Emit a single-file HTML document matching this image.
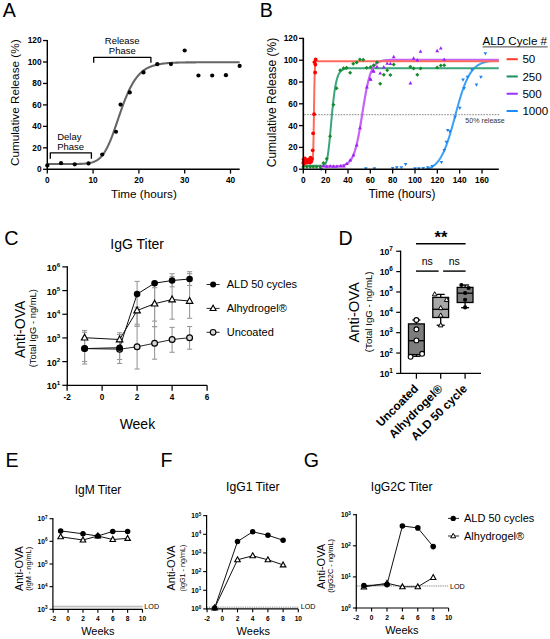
<!DOCTYPE html>
<html><head><meta charset="utf-8"><title>Figure</title>
<style>
html,body{margin:0;padding:0;background:#fff;}
body{width:550px;height:639px;overflow:hidden;}
svg{display:block;font-family:"Liberation Sans", sans-serif;}
</style></head><body>
<svg width="550" height="639" viewBox="0 0 550 639">
<rect width="550" height="639" fill="#fff"/>
<text x="2.8" y="16.8" font-size="19.6" text-anchor="start" fill="#000">A</text>
<line x1="47.3" y1="39.94" x2="47.3" y2="169.9" stroke="#000" stroke-width="1.4"/>
<line x1="46.7" y1="169.3" x2="239.66" y2="169.3" stroke="#000" stroke-width="1.4"/>
<line x1="43" y1="169.3" x2="47.3" y2="169.3" stroke="#000" stroke-width="1.3"/>
<text x="41.6" y="172.25" font-size="8.3" text-anchor="end" fill="#000" font-weight="bold">0</text>
<line x1="43" y1="147.84" x2="47.3" y2="147.84" stroke="#000" stroke-width="1.3"/>
<text x="41.6" y="150.79" font-size="8.3" text-anchor="end" fill="#000" font-weight="bold">20</text>
<line x1="43" y1="126.38" x2="47.3" y2="126.38" stroke="#000" stroke-width="1.3"/>
<text x="41.6" y="129.33" font-size="8.3" text-anchor="end" fill="#000" font-weight="bold">40</text>
<line x1="43" y1="104.92" x2="47.3" y2="104.92" stroke="#000" stroke-width="1.3"/>
<text x="41.6" y="107.87" font-size="8.3" text-anchor="end" fill="#000" font-weight="bold">60</text>
<line x1="43" y1="83.46" x2="47.3" y2="83.46" stroke="#000" stroke-width="1.3"/>
<text x="41.6" y="86.41" font-size="8.3" text-anchor="end" fill="#000" font-weight="bold">80</text>
<line x1="43" y1="62" x2="47.3" y2="62" stroke="#000" stroke-width="1.3"/>
<text x="41.6" y="64.95" font-size="8.3" text-anchor="end" fill="#000" font-weight="bold">100</text>
<line x1="43" y1="40.54" x2="47.3" y2="40.54" stroke="#000" stroke-width="1.3"/>
<text x="41.6" y="43.49" font-size="8.3" text-anchor="end" fill="#000" font-weight="bold">120</text>
<line x1="47.3" y1="169.3" x2="47.3" y2="173.6" stroke="#000" stroke-width="1.3"/>
<text x="47.3" y="182.5" font-size="8.3" text-anchor="middle" fill="#000" font-weight="bold">0</text>
<line x1="93.1" y1="169.3" x2="93.1" y2="173.6" stroke="#000" stroke-width="1.3"/>
<text x="93.1" y="182.5" font-size="8.3" text-anchor="middle" fill="#000" font-weight="bold">10</text>
<line x1="138.9" y1="169.3" x2="138.9" y2="173.6" stroke="#000" stroke-width="1.3"/>
<text x="138.9" y="182.5" font-size="8.3" text-anchor="middle" fill="#000" font-weight="bold">20</text>
<line x1="184.7" y1="169.3" x2="184.7" y2="173.6" stroke="#000" stroke-width="1.3"/>
<text x="184.7" y="182.5" font-size="8.3" text-anchor="middle" fill="#000" font-weight="bold">30</text>
<line x1="230.5" y1="169.3" x2="230.5" y2="173.6" stroke="#000" stroke-width="1.3"/>
<text x="230.5" y="182.5" font-size="8.3" text-anchor="middle" fill="#000" font-weight="bold">40</text>
<text x="143.9" y="198.2" font-size="11.7" text-anchor="middle" fill="#000">Time (hours)</text>
<text x="19" y="102.75" font-size="11.75" text-anchor="middle" fill="#000" transform="rotate(-90 19 102.75)">Cumulative Release (%)</text>
<polyline points="47.3,164.06 48.26,164.06 49.22,164.06 50.19,164.06 51.15,164.06 52.11,164.06 53.07,164.06 54.03,164.06 54.99,164.06 55.96,164.06 56.92,164.06 57.88,164.06 58.84,164.06 59.8,164.06 60.77,164.06 61.73,164.06 62.69,164.06 63.65,164.06 64.61,164.06 65.57,164.06 66.54,164.06 67.5,164.05 68.46,164.05 69.42,164.05 70.38,164.04 71.34,164.04 72.31,164.03 73.27,164.03 74.23,164.02 75.19,164.01 76.15,163.99 77.12,163.98 78.08,163.96 79.04,163.94 80,163.91 80.96,163.88 81.92,163.84 82.89,163.79 83.85,163.73 84.81,163.66 85.77,163.57 86.73,163.47 87.7,163.35 88.66,163.21 89.62,163.03 90.58,162.83 91.54,162.59 92.5,162.31 93.47,161.98 94.43,161.6 95.39,161.15 96.35,160.64 97.31,160.04 98.28,159.36 99.24,158.59 100.2,157.71 101.16,156.72 102.12,155.61 103.08,154.37 104.05,153 105.01,151.49 105.97,149.84 106.93,148.05 107.89,146.12 108.86,144.06 109.82,141.86 110.78,139.53 111.74,137.1 112.7,134.56 113.66,131.93 114.63,129.23 115.59,126.46 116.55,123.66 117.51,120.83 118.47,118 119.44,115.18 120.4,112.37 121.36,109.61 122.32,106.91 123.28,104.26 124.24,101.7 125.21,99.22 126.17,96.83 127.13,94.53 128.09,92.34 129.05,90.26 130.01,88.28 130.98,86.4 131.94,84.63 132.9,82.97 133.86,81.41 134.82,79.95 135.79,78.58 136.75,77.3 137.71,76.12 138.67,75.01 139.63,73.99 140.59,73.04 141.56,72.16 142.52,71.35 143.48,70.6 144.44,69.91 145.4,69.27 146.37,68.68 147.33,68.14 148.29,67.65 149.25,67.19 150.21,66.77 151.17,66.39 152.14,66.04 153.1,65.71 154.06,65.42 155.02,65.15 155.98,64.9 156.95,64.67 157.91,64.46 158.87,64.27 159.83,64.1 160.79,63.94 161.75,63.8 162.72,63.66 163.68,63.54 164.64,63.43 165.6,63.33 166.56,63.24 167.53,63.15 168.49,63.07 169.45,63 170.41,62.94 171.37,62.88 172.33,62.83 173.3,62.78 174.26,62.73 175.22,62.69 176.18,62.66 177.14,62.62 178.1,62.59 179.07,62.56 180.03,62.54 180.99,62.51 181.95,62.49 182.91,62.47 183.88,62.45 184.84,62.44 185.8,62.42 186.76,62.41 187.72,62.4 188.68,62.38 189.65,62.37 190.61,62.37 191.57,62.36 192.53,62.35 193.49,62.34 194.46,62.33 195.42,62.33 196.38,62.32 197.34,62.32 198.3,62.31 199.26,62.31 200.23,62.31 201.19,62.3 202.15,62.3 203.11,62.3 204.07,62.29 205.04,62.29 206,62.29 206.96,62.29 207.92,62.29 208.88,62.28 209.84,62.28 210.81,62.28 211.77,62.28 212.73,62.28 213.69,62.28 214.65,62.28 215.62,62.28 216.58,62.28 217.54,62.27 218.5,62.27 219.46,62.27 220.42,62.27 221.39,62.27 222.35,62.27 223.31,62.27 224.27,62.27 225.23,62.27 226.19,62.27 227.16,62.27 228.12,62.27 229.08,62.27 230.04,62.27 231,62.27 231.97,62.27 232.93,62.27 233.89,62.27 234.85,62.27 235.81,62.27 236.77,62.27 237.74,62.27 238.7,62.27 239.66,62.27" stroke="#666" stroke-width="2.1" fill="none" stroke-linejoin="round" stroke-linecap="butt"/>
<circle cx="47.3" cy="165.44" r="2.1" fill="#000"/>
<circle cx="61.04" cy="163.18" r="2.1" fill="#000"/>
<circle cx="74.78" cy="164.36" r="2.1" fill="#000"/>
<circle cx="88.52" cy="163.4" r="2.1" fill="#000"/>
<circle cx="102.26" cy="154.49" r="2.1" fill="#000"/>
<circle cx="116" cy="131.75" r="2.1" fill="#000"/>
<circle cx="120.58" cy="104.6" r="2.1" fill="#000"/>
<circle cx="129.74" cy="92.47" r="2.1" fill="#000"/>
<circle cx="143.48" cy="72.41" r="2.1" fill="#000"/>
<circle cx="157.22" cy="64.15" r="2.1" fill="#000"/>
<circle cx="170.96" cy="64.04" r="2.1" fill="#000"/>
<circle cx="184.7" cy="50.52" r="2.1" fill="#000"/>
<circle cx="198.44" cy="75.52" r="2.1" fill="#000"/>
<circle cx="212.18" cy="75.52" r="2.1" fill="#000"/>
<circle cx="225.92" cy="75.2" r="2.1" fill="#000"/>
<circle cx="239.66" cy="65.97" r="2.1" fill="#000"/>
<polyline points="50.3,158.8 50.3,152.8 91.4,152.8 91.4,158.8" stroke="#000" stroke-width="1.3" fill="none" stroke-linejoin="round"/>
<text x="69.3" y="139.7" font-size="9.5" text-anchor="middle" fill="#000">Delay</text>
<text x="70.7" y="149.7" font-size="9.5" text-anchor="middle" fill="#000">Phase</text>
<polyline points="93.7,62.8 93.7,57.3 150.9,57.3 150.9,62.8" stroke="#000" stroke-width="1.3" fill="none" stroke-linejoin="round"/>
<text x="122.2" y="44" font-size="9.5" text-anchor="middle" fill="#000">Release</text>
<text x="122.3" y="54.3" font-size="9.5" text-anchor="middle" fill="#000">Phase</text>
<text x="259.8" y="16.6" font-size="19.6" text-anchor="start" fill="#000">B</text>
<line x1="299" y1="169.2" x2="303.3" y2="169.2" stroke="#000" stroke-width="1.3"/>
<text x="297.6" y="172.15" font-size="8.3" text-anchor="end" fill="#000" font-weight="bold">0</text>
<line x1="299" y1="147.4" x2="303.3" y2="147.4" stroke="#000" stroke-width="1.3"/>
<text x="297.6" y="150.35" font-size="8.3" text-anchor="end" fill="#000" font-weight="bold">20</text>
<line x1="299" y1="125.6" x2="303.3" y2="125.6" stroke="#000" stroke-width="1.3"/>
<text x="297.6" y="128.55" font-size="8.3" text-anchor="end" fill="#000" font-weight="bold">40</text>
<line x1="299" y1="103.8" x2="303.3" y2="103.8" stroke="#000" stroke-width="1.3"/>
<text x="297.6" y="106.75" font-size="8.3" text-anchor="end" fill="#000" font-weight="bold">60</text>
<line x1="299" y1="82" x2="303.3" y2="82" stroke="#000" stroke-width="1.3"/>
<text x="297.6" y="84.95" font-size="8.3" text-anchor="end" fill="#000" font-weight="bold">80</text>
<line x1="299" y1="60.2" x2="303.3" y2="60.2" stroke="#000" stroke-width="1.3"/>
<text x="297.6" y="63.15" font-size="8.3" text-anchor="end" fill="#000" font-weight="bold">100</text>
<line x1="299" y1="38.4" x2="303.3" y2="38.4" stroke="#000" stroke-width="1.3"/>
<text x="297.6" y="41.35" font-size="8.3" text-anchor="end" fill="#000" font-weight="bold">120</text>
<line x1="303.3" y1="169.2" x2="303.3" y2="173.5" stroke="#000" stroke-width="1.3"/>
<text x="303.3" y="183.4" font-size="8.3" text-anchor="middle" fill="#000" font-weight="bold">0</text>
<line x1="325.64" y1="169.2" x2="325.64" y2="173.5" stroke="#000" stroke-width="1.3"/>
<text x="325.64" y="183.4" font-size="8.3" text-anchor="middle" fill="#000" font-weight="bold">20</text>
<line x1="347.98" y1="169.2" x2="347.98" y2="173.5" stroke="#000" stroke-width="1.3"/>
<text x="347.98" y="183.4" font-size="8.3" text-anchor="middle" fill="#000" font-weight="bold">40</text>
<line x1="370.32" y1="169.2" x2="370.32" y2="173.5" stroke="#000" stroke-width="1.3"/>
<text x="370.32" y="183.4" font-size="8.3" text-anchor="middle" fill="#000" font-weight="bold">60</text>
<line x1="392.66" y1="169.2" x2="392.66" y2="173.5" stroke="#000" stroke-width="1.3"/>
<text x="392.66" y="183.4" font-size="8.3" text-anchor="middle" fill="#000" font-weight="bold">80</text>
<line x1="415" y1="169.2" x2="415" y2="173.5" stroke="#000" stroke-width="1.3"/>
<text x="415" y="183.4" font-size="8.3" text-anchor="middle" fill="#000" font-weight="bold">100</text>
<line x1="437.34" y1="169.2" x2="437.34" y2="173.5" stroke="#000" stroke-width="1.3"/>
<text x="437.34" y="183.4" font-size="8.3" text-anchor="middle" fill="#000" font-weight="bold">120</text>
<line x1="459.68" y1="169.2" x2="459.68" y2="173.5" stroke="#000" stroke-width="1.3"/>
<text x="459.68" y="183.4" font-size="8.3" text-anchor="middle" fill="#000" font-weight="bold">140</text>
<line x1="482.02" y1="169.2" x2="482.02" y2="173.5" stroke="#000" stroke-width="1.3"/>
<text x="482.02" y="183.4" font-size="8.3" text-anchor="middle" fill="#000" font-weight="bold">160</text>
<text x="401.9" y="198.3" font-size="11.9" text-anchor="middle" fill="#000">Time (hours)</text>
<text x="276.1" y="102.55" font-size="12" text-anchor="middle" fill="#000" transform="rotate(-90 276.1 102.55)">Cumulative Release (%)</text>
<line x1="304.3" y1="114.7" x2="499.4" y2="114.7" stroke="#777" stroke-width="0.9" stroke-dasharray="1.6,1.2"/>
<text x="504.8" y="123.4" font-size="7.1" text-anchor="end" fill="#333">50% release</text>
<defs><clipPath id="cpB"><rect x="303.3" y="30" width="197.47" height="139.2"/></clipPath></defs>
<g clip-path="url(#cpB)">
<polyline points="403.83,171.69 404.07,171.69 404.3,171.68 404.54,171.68 404.78,171.68 405.02,171.67 405.25,171.67 405.49,171.66 405.73,171.66 405.97,171.65 406.2,171.65 406.44,171.64 406.68,171.64 406.92,171.63 407.15,171.62 407.39,171.62 407.63,171.61 407.87,171.61 408.1,171.6 408.34,171.59 408.58,171.58 408.81,171.58 409.05,171.57 409.29,171.56 409.53,171.55 409.76,171.54 410,171.54 410.24,171.53 410.48,171.52 410.71,171.51 410.95,171.5 411.19,171.49 411.43,171.48 411.66,171.47 411.9,171.46 412.14,171.44 412.38,171.43 412.61,171.42 412.85,171.41 413.09,171.4 413.32,171.38 413.56,171.37 413.8,171.35 414.04,171.34 414.27,171.32 414.51,171.31 414.75,171.29 414.99,171.28 415.22,171.26 415.46,171.24 415.7,171.22 415.94,171.2 416.17,171.18 416.41,171.16 416.65,171.14 416.88,171.12 417.12,171.1 417.36,171.08 417.6,171.05 417.83,171.03 418.07,171 418.31,170.98 418.55,170.95 418.78,170.92 419.02,170.9 419.26,170.87 419.5,170.84 419.73,170.81 419.97,170.77 420.21,170.74 420.45,170.71 420.68,170.67 420.92,170.63 421.16,170.6 421.39,170.56 421.63,170.52 421.87,170.48 422.11,170.44 422.34,170.39 422.58,170.35 422.82,170.3 423.06,170.25 423.29,170.2 423.53,170.15 423.77,170.1 424.01,170.05 424.24,169.99 424.48,169.93 424.72,169.87 424.96,169.81 425.19,169.75 425.43,169.69 425.67,169.62 425.9,169.55 426.14,169.48 426.38,169.41 426.62,169.33 426.85,169.25 427.09,169.17 427.33,169.09 427.57,169.01 427.8,168.92 428.04,168.83 428.28,168.74 428.52,168.64 428.75,168.54 428.99,168.44 429.23,168.34 429.47,168.23 429.7,168.12 429.94,168 430.18,167.88 430.41,167.76 430.65,167.64 430.89,167.51 431.13,167.38 431.36,167.24 431.6,167.1 431.84,166.96 432.08,166.81 432.31,166.66 432.55,166.5 432.79,166.34 433.03,166.17 433.26,166 433.5,165.82 433.74,165.64 433.98,165.46 434.21,165.26 434.45,165.07 434.69,164.87 434.92,164.66 435.16,164.44 435.4,164.22 435.64,164 435.87,163.77 436.11,163.53 436.35,163.28 436.59,163.03 436.82,162.77 437.06,162.51 437.3,162.24 437.54,161.96 437.77,161.67 438.01,161.38 438.25,161.07 438.48,160.76 438.72,160.45 438.96,160.12 439.2,159.79 439.43,159.45 439.67,159.09 439.91,158.74 440.15,158.37 440.38,157.99 440.62,157.6 440.86,157.21 441.1,156.81 441.33,156.39 441.57,155.97 441.81,155.54 442.05,155.09 442.28,154.64 442.52,154.18 442.76,153.7 442.99,153.22 443.23,152.73 443.47,152.22 443.71,151.71 443.94,151.19 444.18,150.65 444.42,150.11 444.66,149.55 444.89,148.98 445.13,148.41 445.37,147.82 445.61,147.22 445.84,146.61 446.08,145.99 446.32,145.36 446.56,144.72 446.79,144.07 447.03,143.41 447.27,142.73 447.5,142.05 447.74,141.36 447.98,140.66 448.22,139.94 448.45,139.22 448.69,138.49 448.93,137.75 449.17,137 449.4,136.24 449.64,135.47 449.88,134.7 450.12,133.91 450.35,133.12 450.59,132.32 450.83,131.51 451.07,130.7 451.3,129.88 451.54,129.05 451.78,128.21 452.01,127.37 452.25,126.53 452.49,125.68 452.73,124.82 452.96,123.96 453.2,123.1 453.44,122.23 453.68,121.36 453.91,120.49 454.15,119.62 454.39,118.74 454.63,117.86 454.86,116.98 455.1,116.1 455.34,115.22 455.58,114.34 455.81,113.47 456.05,112.59 456.29,111.71 456.52,110.84 456.76,109.97 457,109.1 457.24,108.24 457.47,107.37 457.71,106.52 457.95,105.67 458.19,104.82 458.42,103.98 458.66,103.14 458.9,102.31 459.14,101.49 459.37,100.67 459.61,99.86 459.85,99.05 460.08,98.26 460.32,97.47 460.56,96.69 460.8,95.92 461.03,95.16 461.27,94.41 461.51,93.66 461.75,92.93 461.98,92.2 462.22,91.48 462.46,90.78 462.7,90.08 462.93,89.4 463.17,88.72 463.41,88.05 463.65,87.4 463.88,86.75 464.12,86.12 464.36,85.5 464.59,84.88 464.83,84.28 465.07,83.69 465.31,83.11 465.54,82.54 465.78,81.98 466.02,81.43 466.26,80.89 466.49,80.36 466.73,79.84 466.97,79.33 467.21,78.84 467.44,78.35 467.68,77.87 467.92,77.41 468.16,76.95 468.39,76.5 468.63,76.07 468.87,75.64 469.1,75.22 469.34,74.82 469.58,74.42 469.82,74.03 470.05,73.65 470.29,73.28 470.53,72.91 470.77,72.56 471,72.21 471.24,71.88 471.48,71.55 471.72,71.23 471.95,70.92 472.19,70.61 472.43,70.31 472.67,70.02 472.9,69.74 473.14,69.47 473.38,69.2 473.61,68.94 473.85,68.69 474.09,68.44 474.33,68.2 474.56,67.96 474.8,67.73 475.04,67.51 475.28,67.3 475.51,67.09 475.75,66.88 475.99,66.68 476.23,66.49 476.46,66.3 476.7,66.12 476.94,65.94 477.18,65.77 477.41,65.6 477.65,65.44 477.89,65.28 478.12,65.12 478.36,64.97 478.6,64.83 478.84,64.68 479.07,64.55 479.31,64.41 479.55,64.28 479.79,64.16 480.02,64.04 480.26,63.92 480.5,63.8 480.74,63.69 480.97,63.58 481.21,63.47 481.45,63.37 481.68,63.27 481.92,63.17 482.16,63.08 482.4,62.99 482.63,62.9 482.87,62.81 483.11,62.73 483.35,62.65 483.58,62.57 483.82,62.5 484.06,62.42 484.3,62.35 484.53,62.28 484.77,62.21 485.01,62.15 485.25,62.08 485.48,62.02 485.72,61.96 485.96,61.9 486.19,61.85 486.43,61.79 486.67,61.74 486.91,61.69 487.14,61.64 487.38,61.59 487.62,61.54 487.86,61.5 488.09,61.45 488.33,61.41 488.57,61.37 488.81,61.33 489.04,61.29 489.28,61.25 489.52,61.22 489.76,61.18 489.99,61.15 490.23,61.11 490.47,61.08 490.7,61.05 490.94,61.02 491.18,60.99 491.42,60.96 491.65,60.93 491.89,60.91 492.13,60.88 492.37,60.85 492.6,60.83 492.84,60.81 493.08,60.78 493.32,60.76 493.55,60.74 493.79,60.72 494.03,60.7 494.27,60.68 494.5,60.66 494.74,60.64 494.98,60.62 495.21,60.61 495.45,60.59 495.69,60.57 495.93,60.56 496.16,60.54 496.4,60.53 496.64,60.51 496.88,60.5 497.11,60.48 497.35,60.47 497.59,60.46 497.83,60.45 498.06,60.43 498.3,60.42 498.54,60.41 498.77,60.4" stroke="#3aa0f5" stroke-width="2" fill="none" stroke-linejoin="round" stroke-linecap="butt"/>
<polyline points="303.3,165.71 303.69,165.71 304.08,165.71 304.47,165.71 304.86,165.71 305.25,165.71 305.65,165.71 306.04,165.71 306.43,165.71 306.82,165.71 307.21,165.71 307.6,165.71 307.99,165.71 308.38,165.71 308.77,165.71 309.16,165.71 309.56,165.71 309.95,165.71 310.34,165.71 310.73,165.71 311.12,165.71 311.51,165.71 311.9,165.71 312.29,165.71 312.68,165.71 313.07,165.71 313.46,165.71 313.86,165.71 314.25,165.71 314.64,165.71 315.03,165.71 315.42,165.71 315.81,165.71 316.2,165.71 316.59,165.71 316.98,165.71 317.37,165.71 317.77,165.71 318.16,165.71 318.55,165.71 318.94,165.71 319.33,165.71 319.72,165.71 320.11,165.71 320.5,165.7 320.89,165.69 321.28,165.68 321.67,165.67 322.07,165.65 322.46,165.61 322.85,165.56 323.24,165.48 323.63,165.36 324.02,165.19 324.41,164.95 324.8,164.62 325.19,164.16 325.58,163.54 325.98,162.73 326.37,161.68 326.76,160.35 327.15,158.7 327.54,156.7 327.93,154.34 328.32,151.6 328.71,148.49 329.1,145.04 329.49,141.28 329.88,137.27 330.28,133.07 330.67,128.76 331.06,124.39 331.45,120.03 331.84,115.75 332.23,111.6 332.62,107.62 333.01,103.84 333.4,100.3 333.79,97 334.19,93.95 334.58,91.15 334.97,88.6 335.36,86.29 335.75,84.2 336.14,82.33 336.53,80.65 336.92,79.16 337.31,77.83 337.7,76.65 338.09,75.61 338.49,74.69 338.88,73.88 339.27,73.16 339.66,72.53 340.05,71.98 340.44,71.5 340.83,71.08 341.22,70.7 341.61,70.38 342,70.1 342.39,69.85 342.79,69.63 343.18,69.44 343.57,69.28 343.96,69.13 344.35,69.01 344.74,68.9 345.13,68.8 345.52,68.72 345.91,68.65 346.3,68.58 346.7,68.53 347.09,68.48 347.48,68.44 347.87,68.4 348.26,68.37 348.65,68.34 349.04,68.32 349.43,68.3 349.82,68.28 350.21,68.26 350.6,68.25 351,68.24 351.39,68.23 351.78,68.22 352.17,68.21 352.56,68.2 352.95,68.2 353.34,68.19 353.73,68.19 354.12,68.18 354.51,68.18 354.91,68.18 355.3,68.17 355.69,68.17 356.08,68.17 356.47,68.17 356.86,68.17 357.25,68.17 357.64,68.16 358.03,68.16 358.42,68.16 358.81,68.16 359.21,68.16 359.6,68.16 359.99,68.16 360.38,68.16 360.77,68.16 361.16,68.16 361.55,68.16 361.94,68.16 362.33,68.16 362.72,68.16 363.12,68.16 363.51,68.16 363.9,68.16 364.29,68.16 364.68,68.16 365.07,68.16 365.46,68.16 365.85,68.16 366.24,68.16 366.63,68.16 367.02,68.16 367.42,68.16 367.81,68.16 368.2,68.16 368.59,68.16 368.98,68.16 369.37,68.16 369.76,68.16 370.15,68.16 370.54,68.16 370.93,68.16 371.33,68.16 371.72,68.16 372.11,68.16 372.5,68.16 372.89,68.16 373.28,68.16 373.67,68.16 374.06,68.16 374.45,68.16 374.84,68.16 375.23,68.16 375.63,68.16 376.02,68.16 376.41,68.16 376.8,68.16 377.19,68.16 377.58,68.16 377.97,68.16 378.36,68.16 378.75,68.16 379.14,68.16 379.54,68.16 379.93,68.16 380.32,68.16 380.71,68.16 381.1,68.16 381.49,68.16 381.88,68.16 382.27,68.16 382.66,68.16 383.05,68.16 383.44,68.16 383.84,68.16 384.23,68.16 384.62,68.16 385.01,68.16 385.4,68.16 385.79,68.16 386.18,68.16 386.57,68.16 386.96,68.16 387.35,68.16 387.75,68.16 388.14,68.16 388.53,68.16 388.92,68.16 389.31,68.16 389.7,68.16 390.09,68.16 390.48,68.16 390.87,68.16 391.26,68.16 391.65,68.16 392.05,68.16 392.44,68.16 392.83,68.16 393.22,68.16 393.61,68.16 394,68.16 394.39,68.16 394.78,68.16 395.17,68.16 395.56,68.16 395.96,68.16 396.35,68.16 396.74,68.16 397.13,68.16 397.52,68.16 397.91,68.16 398.3,68.16 398.69,68.16 399.08,68.16 399.47,68.16 399.86,68.16 400.26,68.16 400.65,68.16 401.04,68.16 401.43,68.16 401.82,68.16 402.21,68.16 402.6,68.16 402.99,68.16 403.38,68.16 403.77,68.16 404.17,68.16 404.56,68.16 404.95,68.16 405.34,68.16 405.73,68.16 406.12,68.16 406.51,68.16 406.9,68.16 407.29,68.16 407.68,68.16 408.07,68.16 408.47,68.16 408.86,68.16 409.25,68.16 409.64,68.16 410.03,68.16 410.42,68.16 410.81,68.16 411.2,68.16 411.59,68.16 411.98,68.16 412.38,68.16 412.77,68.16 413.16,68.16 413.55,68.16 413.94,68.16 414.33,68.16 414.72,68.16 415.11,68.16 415.5,68.16 415.89,68.16 416.28,68.16 416.68,68.16 417.07,68.16 417.46,68.16 417.85,68.16 418.24,68.16 418.63,68.16 419.02,68.16 419.41,68.16 419.8,68.16 420.19,68.16 420.59,68.16 420.98,68.16 421.37,68.16 421.76,68.16 422.15,68.16 422.54,68.16 422.93,68.16 423.32,68.16 423.71,68.16 424.1,68.16 424.49,68.16 424.89,68.16 425.28,68.16 425.67,68.16 426.06,68.16 426.45,68.16 426.84,68.16 427.23,68.16 427.62,68.16 428.01,68.16 428.4,68.16 428.79,68.16 429.19,68.16 429.58,68.16 429.97,68.16 430.36,68.16 430.75,68.16 431.14,68.16 431.53,68.16 431.92,68.16 432.31,68.16 432.7,68.16 433.1,68.16 433.49,68.16 433.88,68.16 434.27,68.16 434.66,68.16 435.05,68.16 435.44,68.16 435.83,68.16 436.22,68.16 436.61,68.16 437,68.16 437.4,68.16 437.79,68.16 438.18,68.16 438.57,68.16 438.96,68.16 439.35,68.16 439.74,68.16 440.13,68.16 440.52,68.16 440.91,68.16 441.31,68.16 441.7,68.16 442.09,68.16 442.48,68.16 442.87,68.16 443.26,68.16 443.65,68.16 444.04,68.16 444.43,68.16 444.82,68.16 445.21,68.16 445.61,68.16 446,68.16 446.39,68.16 446.78,68.16 447.17,68.16 447.56,68.16 447.95,68.16 448.34,68.16 448.73,68.16 449.12,68.16 449.52,68.16 449.91,68.16 450.3,68.16 450.69,68.16 451.08,68.16 451.47,68.16 451.86,68.16 452.25,68.16 452.64,68.16 453.03,68.16 453.42,68.16 453.82,68.16 454.21,68.16 454.6,68.16 454.99,68.16 455.38,68.16 455.77,68.16 456.16,68.16 456.55,68.16 456.94,68.16 457.33,68.16 457.73,68.16 458.12,68.16 458.51,68.16 458.9,68.16 459.29,68.16 459.68,68.16 460.07,68.16 460.46,68.16 460.85,68.16 461.24,68.16 461.63,68.16 462.03,68.16 462.42,68.16 462.81,68.16 463.2,68.16 463.59,68.16 463.98,68.16 464.37,68.16 464.76,68.16 465.15,68.16 465.54,68.16 465.94,68.16 466.33,68.16 466.72,68.16 467.11,68.16 467.5,68.16 467.89,68.16 468.28,68.16 468.67,68.16 469.06,68.16 469.45,68.16 469.84,68.16 470.24,68.16 470.63,68.16 471.02,68.16 471.41,68.16 471.8,68.16 472.19,68.16 472.58,68.16 472.97,68.16 473.36,68.16 473.75,68.16 474.15,68.16 474.54,68.16 474.93,68.16 475.32,68.16 475.71,68.16 476.1,68.16 476.49,68.16 476.88,68.16 477.27,68.16 477.66,68.16 478.05,68.16 478.45,68.16 478.84,68.16 479.23,68.16 479.62,68.16 480.01,68.16 480.4,68.16 480.79,68.16 481.18,68.16 481.57,68.16 481.96,68.16 482.36,68.16 482.75,68.16 483.14,68.16 483.53,68.16 483.92,68.16 484.31,68.16 484.7,68.16 485.09,68.16 485.48,68.16 485.87,68.16 486.26,68.16 486.66,68.16 487.05,68.16 487.44,68.16 487.83,68.16 488.22,68.16 488.61,68.16 489,68.16 489.39,68.16 489.78,68.16 490.17,68.16 490.57,68.16 490.96,68.16 491.35,68.16 491.74,68.16 492.13,68.16 492.52,68.16 492.91,68.16 493.3,68.16 493.69,68.16 494.08,68.16 494.47,68.16 494.87,68.16 495.26,68.16 495.65,68.16 496.04,68.16 496.43,68.16 496.82,68.16 497.21,68.16 497.6,68.16 497.99,68.16 498.38,68.16 498.77,68.16" stroke="#3aa57a" stroke-width="2" fill="none" stroke-linejoin="round" stroke-linecap="butt"/>
<polyline points="318.94,166.47 319.39,166.47 319.84,166.47 320.29,166.47 320.74,166.47 321.19,166.47 321.64,166.47 322.09,166.47 322.53,166.47 322.98,166.47 323.43,166.46 323.88,166.46 324.33,166.46 324.78,166.46 325.23,166.46 325.68,166.46 326.13,166.45 326.58,166.45 327.03,166.45 327.48,166.45 327.93,166.44 328.38,166.44 328.83,166.44 329.28,166.43 329.73,166.43 330.18,166.42 330.63,166.41 331.08,166.41 331.53,166.4 331.98,166.39 332.43,166.38 332.88,166.37 333.32,166.36 333.77,166.35 334.22,166.34 334.67,166.32 335.12,166.3 335.57,166.28 336.02,166.26 336.47,166.24 336.92,166.21 337.37,166.18 337.82,166.15 338.27,166.11 338.72,166.07 339.17,166.03 339.62,165.98 340.07,165.92 340.52,165.86 340.97,165.79 341.42,165.72 341.87,165.63 342.32,165.54 342.77,165.44 343.22,165.32 343.67,165.19 344.12,165.05 344.56,164.9 345.01,164.72 345.46,164.53 345.91,164.32 346.36,164.08 346.81,163.82 347.26,163.54 347.71,163.22 348.16,162.86 348.61,162.48 349.06,162.05 349.51,161.58 349.96,161.06 350.41,160.49 350.86,159.86 351.31,159.17 351.76,158.41 352.21,157.59 352.66,156.69 353.11,155.7 353.56,154.63 354.01,153.47 354.46,152.21 354.91,150.85 355.35,149.39 355.8,147.81 356.25,146.12 356.7,144.32 357.15,142.41 357.6,140.37 358.05,138.23 358.5,135.98 358.95,133.62 359.4,131.16 359.85,128.61 360.3,125.99 360.75,123.3 361.2,120.55 361.65,117.76 362.1,114.94 362.55,112.12 363,109.3 363.45,106.5 363.9,103.74 364.35,101.03 364.8,98.38 365.25,95.81 365.7,93.33 366.15,90.94 366.59,88.66 367.04,86.48 367.49,84.42 367.94,82.46 368.39,80.63 368.84,78.91 369.29,77.3 369.74,75.8 370.19,74.41 370.64,73.12 371.09,71.93 371.54,70.84 371.99,69.83 372.44,68.91 372.89,68.06 373.34,67.28 373.79,66.58 374.24,65.93 374.69,65.34 375.14,64.81 375.59,64.32 376.04,63.88 376.49,63.48 376.94,63.12 377.39,62.79 377.83,62.5 378.28,62.23 378.73,61.99 379.18,61.77 379.63,61.57 380.08,61.39 380.53,61.23 380.98,61.08 381.43,60.95 381.88,60.83 382.33,60.73 382.78,60.63 383.23,60.55 383.68,60.47 384.13,60.4 384.58,60.33 385.03,60.28 385.48,60.23 385.93,60.18 386.38,60.14 386.83,60.1 387.28,60.07 387.73,60.04 388.18,60.01 388.62,59.98 389.07,59.96 389.52,59.94 389.97,59.92 390.42,59.91 390.87,59.89 391.32,59.88 391.77,59.87 392.22,59.86 392.67,59.85 393.12,59.84 393.57,59.83 394.02,59.83 394.47,59.82 394.92,59.81 395.37,59.81 395.82,59.8 396.27,59.8 396.72,59.8 397.17,59.79 397.62,59.79 398.07,59.79 398.52,59.79 398.97,59.78 399.42,59.78 399.86,59.78 400.31,59.78 400.76,59.78 401.21,59.78 401.66,59.77 402.11,59.77 402.56,59.77 403.01,59.77 403.46,59.77 403.91,59.77 404.36,59.77 404.81,59.77 405.26,59.77 405.71,59.77 406.16,59.77 406.61,59.77 407.06,59.77 407.51,59.77 407.96,59.77 408.41,59.77 408.86,59.77 409.31,59.77 409.76,59.77 410.21,59.77 410.65,59.77 411.1,59.77 411.55,59.76 412,59.76 412.45,59.76 412.9,59.76 413.35,59.76 413.8,59.76 414.25,59.76 414.7,59.76 415.15,59.76 415.6,59.76 416.05,59.76 416.5,59.76 416.95,59.76 417.4,59.76 417.85,59.76 418.3,59.76 418.75,59.76 419.2,59.76 419.65,59.76 420.1,59.76 420.55,59.76 421,59.76 421.45,59.76 421.89,59.76 422.34,59.76 422.79,59.76 423.24,59.76 423.69,59.76 424.14,59.76 424.59,59.76 425.04,59.76 425.49,59.76 425.94,59.76 426.39,59.76 426.84,59.76 427.29,59.76 427.74,59.76 428.19,59.76 428.64,59.76 429.09,59.76 429.54,59.76 429.99,59.76 430.44,59.76 430.89,59.76 431.34,59.76 431.79,59.76 432.24,59.76 432.68,59.76 433.13,59.76 433.58,59.76 434.03,59.76 434.48,59.76 434.93,59.76 435.38,59.76 435.83,59.76 436.28,59.76 436.73,59.76 437.18,59.76 437.63,59.76 438.08,59.76 438.53,59.76 438.98,59.76 439.43,59.76 439.88,59.76 440.33,59.76 440.78,59.76 441.23,59.76 441.68,59.76 442.13,59.76 442.58,59.76 443.03,59.76 443.48,59.76 443.92,59.76 444.37,59.76 444.82,59.76 445.27,59.76 445.72,59.76 446.17,59.76 446.62,59.76 447.07,59.76 447.52,59.76 447.97,59.76 448.42,59.76 448.87,59.76 449.32,59.76 449.77,59.76 450.22,59.76 450.67,59.76 451.12,59.76 451.57,59.76 452.02,59.76 452.47,59.76 452.92,59.76 453.37,59.76 453.82,59.76 454.27,59.76 454.71,59.76 455.16,59.76 455.61,59.76 456.06,59.76 456.51,59.76 456.96,59.76 457.41,59.76 457.86,59.76 458.31,59.76 458.76,59.76 459.21,59.76 459.66,59.76 460.11,59.76 460.56,59.76 461.01,59.76 461.46,59.76 461.91,59.76 462.36,59.76 462.81,59.76 463.26,59.76 463.71,59.76 464.16,59.76 464.61,59.76 465.06,59.76 465.51,59.76 465.95,59.76 466.4,59.76 466.85,59.76 467.3,59.76 467.75,59.76 468.2,59.76 468.65,59.76 469.1,59.76 469.55,59.76 470,59.76 470.45,59.76 470.9,59.76 471.35,59.76 471.8,59.76 472.25,59.76 472.7,59.76 473.15,59.76 473.6,59.76 474.05,59.76 474.5,59.76 474.95,59.76 475.4,59.76 475.85,59.76 476.3,59.76 476.74,59.76 477.19,59.76 477.64,59.76 478.09,59.76 478.54,59.76 478.99,59.76 479.44,59.76 479.89,59.76 480.34,59.76 480.79,59.76 481.24,59.76 481.69,59.76 482.14,59.76 482.59,59.76 483.04,59.76 483.49,59.76 483.94,59.76 484.39,59.76 484.84,59.76 485.29,59.76 485.74,59.76 486.19,59.76 486.64,59.76 487.09,59.76 487.54,59.76 487.98,59.76 488.43,59.76 488.88,59.76 489.33,59.76 489.78,59.76 490.23,59.76 490.68,59.76 491.13,59.76 491.58,59.76 492.03,59.76 492.48,59.76 492.93,59.76 493.38,59.76 493.83,59.76 494.28,59.76 494.73,59.76 495.18,59.76 495.63,59.76 496.08,59.76 496.53,59.76 496.98,59.76 497.43,59.76 497.88,59.76 498.33,59.76 498.77,59.76" stroke="#c563f5" stroke-width="2.2" fill="none" stroke-linejoin="round" stroke-linecap="butt"/>
<polyline points="303.3,162.66 303.54,162.66 303.79,162.66 304.03,162.66 304.28,162.66 304.52,162.66 304.77,162.66 305.01,162.66 305.25,162.66 305.5,162.66 305.74,162.66 305.99,162.66 306.23,162.66 306.48,162.66 306.72,162.66 306.97,162.66 307.21,162.66 307.45,162.66 307.7,162.66 307.94,162.66 308.19,162.66 308.43,162.66 308.68,162.66 308.92,162.66 309.16,162.66 309.41,162.66 309.65,162.66 309.9,162.66 310.14,162.66 310.39,162.65 310.63,162.65 310.87,162.64 311.12,162.62 311.36,162.57 311.61,162.49 311.85,162.33 312.1,162.03 312.34,161.45 312.59,160.33 312.83,158.24 313.07,154.41 313.32,147.8 313.56,137.32 313.81,122.84 314.05,106.24 314.3,90.8 314.54,78.99 314.78,71.26 315.03,66.68 315.27,64.14 315.52,62.78 315.76,62.06 316.01,61.69 316.25,61.5 316.49,61.4 316.74,61.34 316.98,61.32 317.23,61.3 317.47,61.3 317.72,61.29 317.96,61.29 318.2,61.29 318.45,61.29 318.69,61.29 318.94,61.29 319.18,61.29 319.43,61.29 319.67,61.29 319.92,61.29 320.16,61.29 320.4,61.29 320.65,61.29 320.89,61.29 321.14,61.29 321.38,61.29 321.63,61.29 321.87,61.29 322.11,61.29 322.36,61.29 322.6,61.29 322.85,61.29 323.09,61.29 323.34,61.29 323.58,61.29 323.82,61.29 324.07,61.29 324.31,61.29 324.56,61.29 324.8,61.29 325.05,61.29 325.29,61.29 325.54,61.29 325.78,61.29 326.02,61.29 326.27,61.29 326.51,61.29 326.76,61.29 327,61.29 327.25,61.29 327.49,61.29 327.73,61.29 327.98,61.29 328.22,61.29 328.47,61.29 328.71,61.29 328.96,61.29 329.2,61.29 329.44,61.29 329.69,61.29 329.93,61.29 330.18,61.29 330.42,61.29 330.67,61.29 330.91,61.29 331.16,61.29 331.4,61.29 331.64,61.29 331.89,61.29 332.13,61.29 332.38,61.29 332.62,61.29 332.87,61.29 333.11,61.29 333.35,61.29 333.6,61.29 333.84,61.29 334.09,61.29 334.33,61.29 334.58,61.29 334.82,61.29 335.06,61.29 335.31,61.29 335.55,61.29 335.8,61.29 336.04,61.29 336.29,61.29 336.53,61.29 336.78,61.29 337.02,61.29 337.26,61.29 337.51,61.29 337.75,61.29 338,61.29 338.24,61.29 338.49,61.29 338.73,61.29 338.97,61.29 339.22,61.29 339.46,61.29 339.71,61.29 339.95,61.29 340.2,61.29 340.44,61.29 340.68,61.29 340.93,61.29 341.17,61.29 341.42,61.29 341.66,61.29 341.91,61.29 342.15,61.29 342.39,61.29 342.64,61.29 342.88,61.29 343.13,61.29 343.37,61.29 343.62,61.29 343.86,61.29 344.11,61.29 344.35,61.29 344.59,61.29 344.84,61.29 345.08,61.29 345.33,61.29 345.57,61.29 345.82,61.29 346.06,61.29 346.3,61.29 346.55,61.29 346.79,61.29 347.04,61.29 347.28,61.29 347.53,61.29 347.77,61.29 348.01,61.29 348.26,61.29 348.5,61.29 348.75,61.29 348.99,61.29 349.24,61.29 349.48,61.29 349.73,61.29 349.97,61.29 350.21,61.29 350.46,61.29 350.7,61.29 350.95,61.29 351.19,61.29 351.44,61.29 351.68,61.29 351.92,61.29 352.17,61.29 352.41,61.29 352.66,61.29 352.9,61.29 353.15,61.29 353.39,61.29 353.63,61.29 353.88,61.29 354.12,61.29 354.37,61.29 354.61,61.29 354.86,61.29 355.1,61.29 355.35,61.29 355.59,61.29 355.83,61.29 356.08,61.29 356.32,61.29 356.57,61.29 356.81,61.29 357.06,61.29 357.3,61.29 357.54,61.29 357.79,61.29 358.03,61.29 358.28,61.29 358.52,61.29 358.77,61.29 359.01,61.29 359.25,61.29 359.5,61.29 359.74,61.29 359.99,61.29 360.23,61.29 360.48,61.29 360.72,61.29 360.97,61.29 361.21,61.29 361.45,61.29 361.7,61.29 361.94,61.29 362.19,61.29 362.43,61.29 362.68,61.29 362.92,61.29 363.16,61.29 363.41,61.29 363.65,61.29 363.9,61.29 364.14,61.29 364.39,61.29 364.63,61.29 364.87,61.29 365.12,61.29 365.36,61.29 365.61,61.29 365.85,61.29 366.1,61.29 366.34,61.29 366.59,61.29 366.83,61.29 367.07,61.29 367.32,61.29 367.56,61.29 367.81,61.29 368.05,61.29 368.3,61.29 368.54,61.29 368.78,61.29 369.03,61.29 369.27,61.29 369.52,61.29 369.76,61.29 370.01,61.29 370.25,61.29 370.49,61.29 370.74,61.29 370.98,61.29 371.23,61.29 371.47,61.29 371.72,61.29 371.96,61.29 372.2,61.29 372.45,61.29 372.69,61.29 372.94,61.29 373.18,61.29 373.43,61.29 373.67,61.29 373.92,61.29 374.16,61.29 374.4,61.29 374.65,61.29 374.89,61.29 375.14,61.29 375.38,61.29 375.63,61.29 375.87,61.29 376.11,61.29 376.36,61.29 376.6,61.29 376.85,61.29 377.09,61.29 377.34,61.29 377.58,61.29 377.82,61.29 378.07,61.29 378.31,61.29 378.56,61.29 378.8,61.29 379.05,61.29 379.29,61.29 379.54,61.29 379.78,61.29 380.02,61.29 380.27,61.29 380.51,61.29 380.76,61.29 381,61.29 381.25,61.29 381.49,61.29 381.73,61.29 381.98,61.29 382.22,61.29 382.47,61.29 382.71,61.29 382.96,61.29 383.2,61.29 383.44,61.29 383.69,61.29 383.93,61.29 384.18,61.29 384.42,61.29 384.67,61.29 384.91,61.29 385.16,61.29 385.4,61.29 385.64,61.29 385.89,61.29 386.13,61.29 386.38,61.29 386.62,61.29 386.87,61.29 387.11,61.29 387.35,61.29 387.6,61.29 387.84,61.29 388.09,61.29 388.33,61.29 388.58,61.29 388.82,61.29 389.06,61.29 389.31,61.29 389.55,61.29 389.8,61.29 390.04,61.29 390.29,61.29 390.53,61.29 390.78,61.29 391.02,61.29 391.26,61.29 391.51,61.29 391.75,61.29 392,61.29 392.24,61.29 392.49,61.29 392.73,61.29 392.97,61.29 393.22,61.29 393.46,61.29 393.71,61.29 393.95,61.29 394.2,61.29 394.44,61.29 394.68,61.29 394.93,61.29 395.17,61.29 395.42,61.29 395.66,61.29 395.91,61.29 396.15,61.29 396.39,61.29 396.64,61.29 396.88,61.29 397.13,61.29 397.37,61.29 397.62,61.29 397.86,61.29 398.11,61.29 398.35,61.29 398.59,61.29 398.84,61.29 399.08,61.29 399.33,61.29 399.57,61.29 399.82,61.29 400.06,61.29 400.3,61.29 400.55,61.29 400.79,61.29 401.04,61.29 401.28,61.29 401.53,61.29 401.77,61.29 402.01,61.29 402.26,61.29 402.5,61.29 402.75,61.29 402.99,61.29 403.24,61.29 403.48,61.29 403.73,61.29 403.97,61.29 404.21,61.29 404.46,61.29 404.7,61.29 404.95,61.29 405.19,61.29 405.44,61.29 405.68,61.29 405.92,61.29 406.17,61.29 406.41,61.29 406.66,61.29 406.9,61.29 407.15,61.29 407.39,61.29 407.63,61.29 407.88,61.29 408.12,61.29 408.37,61.29 408.61,61.29 408.86,61.29 409.1,61.29 409.35,61.29 409.59,61.29 409.83,61.29 410.08,61.29 410.32,61.29 410.57,61.29 410.81,61.29 411.06,61.29 411.3,61.29 411.54,61.29 411.79,61.29 412.03,61.29 412.28,61.29 412.52,61.29 412.77,61.29 413.01,61.29 413.25,61.29 413.5,61.29 413.74,61.29 413.99,61.29 414.23,61.29 414.48,61.29 414.72,61.29 414.97,61.29 415.21,61.29 415.45,61.29 415.7,61.29 415.94,61.29 416.19,61.29 416.43,61.29 416.68,61.29 416.92,61.29 417.16,61.29 417.41,61.29 417.65,61.29 417.9,61.29 418.14,61.29 418.39,61.29 418.63,61.29 418.87,61.29 419.12,61.29 419.36,61.29 419.61,61.29 419.85,61.29 420.1,61.29 420.34,61.29 420.59,61.29 420.83,61.29 421.07,61.29 421.32,61.29 421.56,61.29 421.81,61.29 422.05,61.29 422.3,61.29 422.54,61.29 422.78,61.29 423.03,61.29 423.27,61.29 423.52,61.29 423.76,61.29 424.01,61.29 424.25,61.29 424.49,61.29 424.74,61.29 424.98,61.29 425.23,61.29 425.47,61.29 425.72,61.29 425.96,61.29 426.2,61.29 426.45,61.29 426.69,61.29 426.94,61.29 427.18,61.29 427.43,61.29 427.67,61.29 427.92,61.29 428.16,61.29 428.4,61.29 428.65,61.29 428.89,61.29 429.14,61.29 429.38,61.29 429.63,61.29 429.87,61.29 430.11,61.29 430.36,61.29 430.6,61.29 430.85,61.29 431.09,61.29 431.34,61.29 431.58,61.29 431.82,61.29 432.07,61.29 432.31,61.29 432.56,61.29 432.8,61.29 433.05,61.29 433.29,61.29 433.54,61.29 433.78,61.29 434.02,61.29 434.27,61.29 434.51,61.29 434.76,61.29 435,61.29 435.25,61.29 435.49,61.29 435.73,61.29 435.98,61.29 436.22,61.29 436.47,61.29 436.71,61.29 436.96,61.29 437.2,61.29 437.44,61.29 437.69,61.29 437.93,61.29 438.18,61.29 438.42,61.29 438.67,61.29 438.91,61.29 439.16,61.29 439.4,61.29 439.64,61.29 439.89,61.29 440.13,61.29 440.38,61.29 440.62,61.29 440.87,61.29 441.11,61.29 441.35,61.29 441.6,61.29 441.84,61.29 442.09,61.29 442.33,61.29 442.58,61.29 442.82,61.29 443.06,61.29 443.31,61.29 443.55,61.29 443.8,61.29 444.04,61.29 444.29,61.29 444.53,61.29 444.78,61.29 445.02,61.29 445.26,61.29 445.51,61.29 445.75,61.29 446,61.29 446.24,61.29 446.49,61.29 446.73,61.29 446.97,61.29 447.22,61.29 447.46,61.29 447.71,61.29 447.95,61.29 448.2,61.29 448.44,61.29 448.68,61.29 448.93,61.29 449.17,61.29 449.42,61.29 449.66,61.29 449.91,61.29 450.15,61.29 450.39,61.29 450.64,61.29 450.88,61.29 451.13,61.29 451.37,61.29 451.62,61.29 451.86,61.29 452.11,61.29 452.35,61.29 452.59,61.29 452.84,61.29 453.08,61.29 453.33,61.29 453.57,61.29 453.82,61.29 454.06,61.29 454.3,61.29 454.55,61.29 454.79,61.29 455.04,61.29 455.28,61.29 455.53,61.29 455.77,61.29 456.01,61.29 456.26,61.29 456.5,61.29 456.75,61.29 456.99,61.29 457.24,61.29 457.48,61.29 457.73,61.29 457.97,61.29 458.21,61.29 458.46,61.29 458.7,61.29 458.95,61.29 459.19,61.29 459.44,61.29 459.68,61.29 459.92,61.29 460.17,61.29 460.41,61.29 460.66,61.29 460.9,61.29 461.15,61.29 461.39,61.29 461.63,61.29 461.88,61.29 462.12,61.29 462.37,61.29 462.61,61.29 462.86,61.29 463.1,61.29 463.35,61.29 463.59,61.29 463.83,61.29 464.08,61.29 464.32,61.29 464.57,61.29 464.81,61.29 465.06,61.29 465.3,61.29 465.54,61.29 465.79,61.29 466.03,61.29 466.28,61.29 466.52,61.29 466.77,61.29 467.01,61.29 467.25,61.29 467.5,61.29 467.74,61.29 467.99,61.29 468.23,61.29 468.48,61.29 468.72,61.29 468.97,61.29 469.21,61.29 469.45,61.29 469.7,61.29 469.94,61.29 470.19,61.29 470.43,61.29 470.68,61.29 470.92,61.29 471.16,61.29 471.41,61.29 471.65,61.29 471.9,61.29 472.14,61.29 472.39,61.29 472.63,61.29 472.87,61.29 473.12,61.29 473.36,61.29 473.61,61.29 473.85,61.29 474.1,61.29 474.34,61.29 474.58,61.29 474.83,61.29 475.07,61.29 475.32,61.29 475.56,61.29 475.81,61.29 476.05,61.29 476.3,61.29 476.54,61.29 476.78,61.29 477.03,61.29 477.27,61.29 477.52,61.29 477.76,61.29 478.01,61.29 478.25,61.29 478.49,61.29 478.74,61.29 478.98,61.29 479.23,61.29 479.47,61.29 479.72,61.29 479.96,61.29 480.2,61.29 480.45,61.29 480.69,61.29 480.94,61.29 481.18,61.29 481.43,61.29 481.67,61.29 481.92,61.29 482.16,61.29 482.4,61.29 482.65,61.29 482.89,61.29 483.14,61.29 483.38,61.29 483.63,61.29 483.87,61.29 484.11,61.29 484.36,61.29 484.6,61.29 484.85,61.29 485.09,61.29 485.34,61.29 485.58,61.29 485.82,61.29 486.07,61.29 486.31,61.29 486.56,61.29 486.8,61.29 487.05,61.29 487.29,61.29 487.54,61.29 487.78,61.29 488.02,61.29 488.27,61.29 488.51,61.29 488.76,61.29 489,61.29 489.25,61.29 489.49,61.29 489.73,61.29 489.98,61.29 490.22,61.29 490.47,61.29 490.71,61.29 490.96,61.29 491.2,61.29 491.44,61.29 491.69,61.29 491.93,61.29 492.18,61.29 492.42,61.29 492.67,61.29 492.91,61.29 493.16,61.29 493.4,61.29 493.64,61.29 493.89,61.29 494.13,61.29 494.38,61.29 494.62,61.29 494.87,61.29 495.11,61.29 495.35,61.29 495.6,61.29 495.84,61.29 496.09,61.29 496.33,61.29 496.58,61.29 496.82,61.29 497.06,61.29 497.31,61.29 497.55,61.29 497.8,61.29 498.04,61.29 498.29,61.29 498.53,61.29 498.77,61.29" stroke="#ff6a5c" stroke-width="2" fill="none" stroke-linejoin="round" stroke-linecap="butt"/>
</g>
<polygon points="321.17,171.14 322.97,167.9 319.37,167.9" fill="#1c84f0"/>
<polygon points="365.85,170.6 367.65,167.36 364.05,167.36" fill="#1c84f0"/>
<polygon points="374.45,170.6 376.25,167.36 372.65,167.36" fill="#1c84f0"/>
<polygon points="392.66,170.27 394.46,167.03 390.86,167.03" fill="#1c84f0"/>
<polygon points="396.79,169.51 398.59,166.27 394.99,166.27" fill="#1c84f0"/>
<polygon points="401.37,169.51 403.17,166.27 399.57,166.27" fill="#1c84f0"/>
<polygon points="405.62,166.13 407.42,162.89 403.82,162.89" fill="#1c84f0"/>
<polygon points="415,170.6 416.8,167.36 413.2,167.36" fill="#1c84f0"/>
<polygon points="418.91,170.6 420.71,167.36 417.11,167.36" fill="#1c84f0"/>
<polygon points="423.27,170.16 425.07,166.92 421.47,166.92" fill="#1c84f0"/>
<polygon points="427.73,169.51 429.53,166.27 425.93,166.27" fill="#1c84f0"/>
<polygon points="432.2,168.31 434,165.07 430.4,165.07" fill="#1c84f0"/>
<polygon points="441.47,164.17 443.27,160.93 439.67,160.93" fill="#1c84f0"/>
<polygon points="444.27,152.18 446.07,148.94 442.47,148.94" fill="#1c84f0"/>
<polygon points="446.39,143.89 448.19,140.65 444.59,140.65" fill="#1c84f0"/>
<polygon points="447.73,132.12 449.53,128.88 445.93,128.88" fill="#1c84f0"/>
<polygon points="449.85,133.54 451.65,130.3 448.05,130.3" fill="#1c84f0"/>
<polygon points="455.1,119.04 456.9,115.8 453.3,115.8" fill="#1c84f0"/>
<polygon points="459.79,110.1 461.59,106.86 457.99,106.86" fill="#1c84f0"/>
<polygon points="464.15,90.27 465.95,87.03 462.35,87.03" fill="#1c84f0"/>
<polygon points="463.03,81.76 464.83,78.52 461.23,78.52" fill="#1c84f0"/>
<polygon points="467.5,79.04 469.3,75.8 465.7,75.8" fill="#1c84f0"/>
<polygon points="471.97,71.41 473.77,68.17 470.17,68.17" fill="#1c84f0"/>
<polygon points="476.44,86.67 478.24,83.43 474.63,83.43" fill="#1c84f0"/>
<polygon points="480.9,79.04 482.7,75.8 479.1,75.8" fill="#1c84f0"/>
<polygon points="485.37,55.39 487.17,52.15 483.57,52.15" fill="#1c84f0"/>
<polygon points="323.41,163.88 325.31,167.3 321.51,167.3" fill="#9a22f5"/>
<polygon points="326.76,164.31 328.66,167.73 324.86,167.73" fill="#9a22f5"/>
<polygon points="330.11,164.1 332.01,167.52 328.21,167.52" fill="#9a22f5"/>
<polygon points="333.46,164.31 335.36,167.73 331.56,167.73" fill="#9a22f5"/>
<polygon points="336.81,164.42 338.71,167.84 334.91,167.84" fill="#9a22f5"/>
<polygon points="340.72,164.1 342.62,167.52 338.82,167.52" fill="#9a22f5"/>
<polygon points="343.85,163.99 345.75,167.41 341.95,167.41" fill="#9a22f5"/>
<polygon points="346.86,161.7 348.76,165.12 344.96,165.12" fill="#9a22f5"/>
<polygon points="350.21,157.99 352.11,161.41 348.31,161.41" fill="#9a22f5"/>
<polygon points="353.45,152.98 355.35,156.4 351.55,156.4" fill="#9a22f5"/>
<polygon points="356.8,143.17 358.7,146.59 354.9,146.59" fill="#9a22f5"/>
<polygon points="360.04,125.73 361.94,129.15 358.14,129.15" fill="#9a22f5"/>
<polygon points="366.97,85.07 368.87,88.49 365.07,88.49" fill="#9a22f5"/>
<polygon points="370.32,77 372.22,80.42 368.42,80.42" fill="#9a22f5"/>
<polygon points="373.34,68.72 375.24,72.14 371.44,72.14" fill="#9a22f5"/>
<polygon points="370.7,77.45 372.6,80.87 368.8,80.87" fill="#9a22f5"/>
<polygon points="373.6,69.45 375.5,72.87 371.7,72.87" fill="#9a22f5"/>
<polygon points="377,64.75 378.9,68.17 375.1,68.17" fill="#9a22f5"/>
<polygon points="380.2,71.15 382.1,74.57 378.3,74.57" fill="#9a22f5"/>
<polygon points="383.8,65.05 385.7,68.47 381.9,68.47" fill="#9a22f5"/>
<polygon points="387.2,61.45 389.1,64.87 385.3,64.87" fill="#9a22f5"/>
<polygon points="390.4,61.65 392.3,65.07 388.5,65.07" fill="#9a22f5"/>
<polygon points="393.7,54.85 395.6,58.27 391.8,58.27" fill="#9a22f5"/>
<polygon points="410.4,81.05 412.3,84.47 408.5,84.47" fill="#9a22f5"/>
<polygon points="413.6,56.35 415.5,59.77 411.7,59.77" fill="#9a22f5"/>
<polygon points="417.3,58.05 419.2,61.47 415.4,61.47" fill="#9a22f5"/>
<polygon points="420.5,49.45 422.4,52.87 418.6,52.87" fill="#9a22f5"/>
<polygon points="437.2,48.75 439.1,52.17 435.3,52.17" fill="#9a22f5"/>
<polygon points="440.8,46.15 442.7,49.57 438.9,49.57" fill="#9a22f5"/>
<polygon points="444.2,57.45 446.1,60.87 442.3,60.87" fill="#9a22f5"/>
<polygon points="303.3,164.8 305.3,166.8 303.3,168.8 301.3,166.8" fill="#158a2a"/>
<polygon points="306.87,164.8 308.87,166.8 306.87,168.8 304.87,166.8" fill="#158a2a"/>
<polygon points="310.23,164.8 312.23,166.8 310.23,168.8 308.23,166.8" fill="#158a2a"/>
<polygon points="313.24,164.8 315.24,166.8 313.24,168.8 311.24,166.8" fill="#158a2a"/>
<polygon points="316.48,164.8 318.48,166.8 316.48,168.8 314.48,166.8" fill="#158a2a"/>
<polygon points="320.28,164.8 322.28,166.8 320.28,168.8 318.28,166.8" fill="#158a2a"/>
<polygon points="323.41,160.99 325.41,162.99 323.41,164.99 321.41,162.99" fill="#158a2a"/>
<polygon points="326.76,156.84 328.76,158.84 326.76,160.84 324.76,158.84" fill="#158a2a"/>
<polygon points="330.11,134.17 332.11,136.17 330.11,138.17 328.11,136.17" fill="#158a2a"/>
<polygon points="333.46,102.67 335.46,104.67 333.46,106.67 331.46,104.67" fill="#158a2a"/>
<polygon points="336.59,86.32 338.59,88.32 336.59,90.32 334.59,88.32" fill="#158a2a"/>
<polygon points="340.16,68.34 342.16,70.34 340.16,72.34 338.16,70.34" fill="#158a2a"/>
<polygon points="343.51,66.37 345.51,68.37 343.51,70.37 341.51,68.37" fill="#158a2a"/>
<polygon points="346.53,65.83 348.53,67.83 346.53,69.83 344.53,67.83" fill="#158a2a"/>
<polygon points="350.1,70.84 352.1,72.84 350.1,74.84 348.1,72.84" fill="#158a2a"/>
<polygon points="353.23,61.69 355.23,63.69 353.23,65.69 351.23,63.69" fill="#158a2a"/>
<polygon points="356.69,60.6 358.69,62.6 356.69,64.6 354.69,62.6" fill="#158a2a"/>
<polygon points="359.93,57.44 361.93,59.44 359.93,61.44 357.93,59.44" fill="#158a2a"/>
<polygon points="363.28,57.65 365.28,59.65 363.28,61.65 361.28,59.65" fill="#158a2a"/>
<polygon points="366.63,65.83 368.63,67.83 366.63,69.83 364.63,67.83" fill="#158a2a"/>
<polygon points="370.7,65.1 372.7,67.1 370.7,69.1 368.7,67.1" fill="#158a2a"/>
<polygon points="373.6,63.3 375.6,65.3 373.6,67.3 371.6,65.3" fill="#158a2a"/>
<polygon points="377,60.3 379,62.3 377,64.3 375,62.3" fill="#158a2a"/>
<polygon points="380.2,81.8 382.2,83.8 380.2,85.8 378.2,83.8" fill="#158a2a"/>
<polygon points="383.8,72.7 385.8,74.7 383.8,76.7 381.8,74.7" fill="#158a2a"/>
<polygon points="387.2,68.3 389.2,70.3 387.2,72.3 385.2,70.3" fill="#158a2a"/>
<polygon points="390.4,73.1 392.4,75.1 390.4,77.1 388.4,75.1" fill="#158a2a"/>
<polygon points="393.7,62.6 395.7,64.6 393.7,66.6 391.7,64.6" fill="#158a2a"/>
<polygon points="410.4,64.7 412.4,66.7 410.4,68.7 408.4,66.7" fill="#158a2a"/>
<polygon points="413.6,66.5 415.6,68.5 413.6,70.5 411.6,68.5" fill="#158a2a"/>
<polygon points="417.3,72.7 419.3,74.7 417.3,76.7 415.3,74.7" fill="#158a2a"/>
<polygon points="420.5,66.5 422.5,68.5 420.5,70.5 418.5,68.5" fill="#158a2a"/>
<polygon points="437.2,65.4 439.2,67.4 437.2,69.4 435.2,67.4" fill="#158a2a"/>
<polygon points="440.8,63.6 442.8,65.6 440.8,67.6 438.8,65.6" fill="#158a2a"/>
<polygon points="444.2,63.3 446.2,65.3 444.2,67.3 442.2,65.3" fill="#158a2a"/>
<circle cx="303.3" cy="162.66" r="1.9" fill="#ff0000"/>
<circle cx="303.64" cy="159.39" r="1.9" fill="#ff0000"/>
<circle cx="303.97" cy="163.75" r="1.9" fill="#ff0000"/>
<circle cx="304.98" cy="158.3" r="1.9" fill="#ff0000"/>
<circle cx="305.76" cy="161.02" r="1.9" fill="#ff0000"/>
<circle cx="306.65" cy="162.66" r="1.9" fill="#ff0000"/>
<circle cx="307.54" cy="159.94" r="1.9" fill="#ff0000"/>
<circle cx="308.33" cy="162.11" r="1.9" fill="#ff0000"/>
<circle cx="309.11" cy="159.39" r="1.9" fill="#ff0000"/>
<circle cx="309.78" cy="162.66" r="1.9" fill="#ff0000"/>
<circle cx="310.56" cy="157.75" r="1.9" fill="#ff0000"/>
<circle cx="311.12" cy="161.57" r="1.9" fill="#ff0000"/>
<circle cx="312.01" cy="158.84" r="1.9" fill="#ff0000"/>
<circle cx="312.68" cy="150.34" r="1.9" fill="#ff0000"/>
<circle cx="313.13" cy="133.34" r="1.9" fill="#ff0000"/>
<circle cx="314.13" cy="114.15" r="1.9" fill="#ff0000"/>
<circle cx="315.14" cy="72.52" r="1.9" fill="#ff0000"/>
<circle cx="315.36" cy="64.56" r="1.9" fill="#ff0000"/>
<circle cx="314.36" cy="62.05" r="1.9" fill="#ff0000"/>
<circle cx="315.7" cy="59.44" r="1.9" fill="#ff0000"/>
<line x1="303.3" y1="37.8" x2="303.3" y2="169.8" stroke="#000" stroke-width="1.6"/>
<line x1="302.7" y1="169.2" x2="498.77" y2="169.2" stroke="#000" stroke-width="1.6"/>
<text x="482.6" y="45.3" font-size="11.6" text-anchor="start" fill="#000">ALD Cycle #</text>
<line x1="482.6" y1="46.9" x2="547.6" y2="46.9" stroke="#444" stroke-width="1"/>
<line x1="506.6" y1="59.2" x2="517.8" y2="59.2" stroke="#ff3a2a" stroke-width="2"/>
<text x="522.4" y="63.4" font-size="11.6" text-anchor="start" fill="#000">50</text>
<line x1="506.6" y1="76.47" x2="517.8" y2="76.47" stroke="#1a9060" stroke-width="2"/>
<text x="522.4" y="80.67" font-size="11.6" text-anchor="start" fill="#000">250</text>
<line x1="506.6" y1="93.74" x2="517.8" y2="93.74" stroke="#9933ff" stroke-width="2"/>
<text x="522.4" y="97.94" font-size="11.6" text-anchor="start" fill="#000">500</text>
<line x1="506.6" y1="111.01" x2="517.8" y2="111.01" stroke="#1a8cff" stroke-width="2"/>
<text x="522.4" y="115.21" font-size="11.6" text-anchor="start" fill="#000">1000</text>
<text x="4.2" y="245.4" font-size="19.8" text-anchor="start" fill="#000">C</text>
<text x="137.2" y="249.2" font-size="14" text-anchor="middle" fill="#000">IgG Titer</text>
<line x1="67.3" y1="266.3" x2="67.3" y2="385.9" stroke="#000" stroke-width="1.3"/>
<line x1="66.7" y1="385.3" x2="207.1" y2="385.3" stroke="#000" stroke-width="1.3"/>
<line x1="62.3" y1="385.3" x2="67.3" y2="385.3" stroke="#000" stroke-width="1.2"/>
<text x="60.3" y="389.3" font-size="9" text-anchor="end" font-weight="bold">10<tspan font-size="6.2" dy="-4.05">1</tspan></text>
<line x1="62.3" y1="361.62" x2="67.3" y2="361.62" stroke="#000" stroke-width="1.2"/>
<text x="60.3" y="365.62" font-size="9" text-anchor="end" font-weight="bold">10<tspan font-size="6.2" dy="-4.05">2</tspan></text>
<line x1="62.3" y1="337.94" x2="67.3" y2="337.94" stroke="#000" stroke-width="1.2"/>
<text x="60.3" y="341.94" font-size="9" text-anchor="end" font-weight="bold">10<tspan font-size="6.2" dy="-4.05">3</tspan></text>
<line x1="62.3" y1="314.26" x2="67.3" y2="314.26" stroke="#000" stroke-width="1.2"/>
<text x="60.3" y="318.26" font-size="9" text-anchor="end" font-weight="bold">10<tspan font-size="6.2" dy="-4.05">4</tspan></text>
<line x1="62.3" y1="290.58" x2="67.3" y2="290.58" stroke="#000" stroke-width="1.2"/>
<text x="60.3" y="294.58" font-size="9" text-anchor="end" font-weight="bold">10<tspan font-size="6.2" dy="-4.05">5</tspan></text>
<line x1="62.3" y1="266.9" x2="67.3" y2="266.9" stroke="#000" stroke-width="1.2"/>
<text x="60.3" y="270.9" font-size="9" text-anchor="end" font-weight="bold">10<tspan font-size="6.2" dy="-4.05">6</tspan></text>
<line x1="67.1" y1="385.3" x2="67.1" y2="390.7" stroke="#000" stroke-width="1.25"/>
<text x="67.1" y="400.4" font-size="8.2" text-anchor="middle" fill="#000" font-weight="bold">-2</text>
<line x1="102.1" y1="385.3" x2="102.1" y2="390.7" stroke="#000" stroke-width="1.25"/>
<text x="102.1" y="400.4" font-size="8.2" text-anchor="middle" fill="#000" font-weight="bold">0</text>
<line x1="137.1" y1="385.3" x2="137.1" y2="390.7" stroke="#000" stroke-width="1.25"/>
<text x="137.1" y="400.4" font-size="8.2" text-anchor="middle" fill="#000" font-weight="bold">2</text>
<line x1="172.1" y1="385.3" x2="172.1" y2="390.7" stroke="#000" stroke-width="1.25"/>
<text x="172.1" y="400.4" font-size="8.2" text-anchor="middle" fill="#000" font-weight="bold">4</text>
<line x1="207.1" y1="385.3" x2="207.1" y2="390.7" stroke="#000" stroke-width="1.25"/>
<text x="207.1" y="400.4" font-size="8.2" text-anchor="middle" fill="#000" font-weight="bold">6</text>
<text x="137.4" y="428.9" font-size="14" text-anchor="middle" fill="#000">Week</text>
<text x="24.6" y="329.4" font-size="14" text-anchor="middle" fill="#000" transform="rotate(-90 24.6 329.4)">Anti-OVA</text>
<text x="36" y="328.2" font-size="9.4" text-anchor="middle" fill="#000" transform="rotate(-90 36 328.2)">(Total IgG - ng/mL)</text>
<line x1="84.6" y1="330.5" x2="84.6" y2="364" stroke="#9a9a9a" stroke-width="1.1"/>
<line x1="82" y1="330.5" x2="87.2" y2="330.5" stroke="#9a9a9a" stroke-width="1.1"/>
<line x1="82" y1="364" x2="87.2" y2="364" stroke="#9a9a9a" stroke-width="1.1"/>
<line x1="84.6" y1="332.3" x2="84.6" y2="361.5" stroke="#9a9a9a" stroke-width="1.1"/>
<line x1="82" y1="332.3" x2="87.2" y2="332.3" stroke="#9a9a9a" stroke-width="1.1"/>
<line x1="82" y1="361.5" x2="87.2" y2="361.5" stroke="#9a9a9a" stroke-width="1.1"/>
<line x1="119.6" y1="332.8" x2="119.6" y2="363.5" stroke="#9a9a9a" stroke-width="1.1"/>
<line x1="117" y1="332.8" x2="122.2" y2="332.8" stroke="#9a9a9a" stroke-width="1.1"/>
<line x1="117" y1="363.5" x2="122.2" y2="363.5" stroke="#9a9a9a" stroke-width="1.1"/>
<line x1="119.6" y1="334.6" x2="119.6" y2="359.5" stroke="#9a9a9a" stroke-width="1.1"/>
<line x1="117" y1="334.6" x2="122.2" y2="334.6" stroke="#9a9a9a" stroke-width="1.1"/>
<line x1="117" y1="359.5" x2="122.2" y2="359.5" stroke="#9a9a9a" stroke-width="1.1"/>
<line x1="137.1" y1="281.4" x2="137.1" y2="326.2" stroke="#9a9a9a" stroke-width="1.1"/>
<line x1="134.5" y1="281.4" x2="139.7" y2="281.4" stroke="#9a9a9a" stroke-width="1.1"/>
<line x1="134.5" y1="326.2" x2="139.7" y2="326.2" stroke="#9a9a9a" stroke-width="1.1"/>
<line x1="137.1" y1="307.2" x2="137.1" y2="324.2" stroke="#9a9a9a" stroke-width="1.1"/>
<line x1="134.5" y1="307.2" x2="139.7" y2="307.2" stroke="#9a9a9a" stroke-width="1.1"/>
<line x1="134.5" y1="324.2" x2="139.7" y2="324.2" stroke="#9a9a9a" stroke-width="1.1"/>
<line x1="137.1" y1="326.2" x2="137.1" y2="369" stroke="#9a9a9a" stroke-width="1.1"/>
<line x1="134.5" y1="326.2" x2="139.7" y2="326.2" stroke="#9a9a9a" stroke-width="1.1"/>
<line x1="134.5" y1="369" x2="139.7" y2="369" stroke="#9a9a9a" stroke-width="1.1"/>
<line x1="154.6" y1="281.5" x2="154.6" y2="321.1" stroke="#9a9a9a" stroke-width="1.1"/>
<line x1="152" y1="281.5" x2="157.2" y2="281.5" stroke="#9a9a9a" stroke-width="1.1"/>
<line x1="152" y1="321.1" x2="157.2" y2="321.1" stroke="#9a9a9a" stroke-width="1.1"/>
<line x1="154.6" y1="287.7" x2="154.6" y2="326.6" stroke="#9a9a9a" stroke-width="1.1"/>
<line x1="152" y1="287.7" x2="157.2" y2="287.7" stroke="#9a9a9a" stroke-width="1.1"/>
<line x1="152" y1="326.6" x2="157.2" y2="326.6" stroke="#9a9a9a" stroke-width="1.1"/>
<line x1="154.6" y1="326.6" x2="154.6" y2="359.2" stroke="#9a9a9a" stroke-width="1.1"/>
<line x1="152" y1="326.6" x2="157.2" y2="326.6" stroke="#9a9a9a" stroke-width="1.1"/>
<line x1="152" y1="359.2" x2="157.2" y2="359.2" stroke="#9a9a9a" stroke-width="1.1"/>
<line x1="172.1" y1="273.7" x2="172.1" y2="319.2" stroke="#9a9a9a" stroke-width="1.1"/>
<line x1="169.5" y1="273.7" x2="174.7" y2="273.7" stroke="#9a9a9a" stroke-width="1.1"/>
<line x1="169.5" y1="319.2" x2="174.7" y2="319.2" stroke="#9a9a9a" stroke-width="1.1"/>
<line x1="172.1" y1="276.5" x2="172.1" y2="286.8" stroke="#9a9a9a" stroke-width="1.1"/>
<line x1="169.5" y1="276.5" x2="174.7" y2="276.5" stroke="#9a9a9a" stroke-width="1.1"/>
<line x1="169.5" y1="286.8" x2="174.7" y2="286.8" stroke="#9a9a9a" stroke-width="1.1"/>
<line x1="172.1" y1="327.4" x2="172.1" y2="352.3" stroke="#9a9a9a" stroke-width="1.1"/>
<line x1="169.5" y1="327.4" x2="174.7" y2="327.4" stroke="#9a9a9a" stroke-width="1.1"/>
<line x1="169.5" y1="352.3" x2="174.7" y2="352.3" stroke="#9a9a9a" stroke-width="1.1"/>
<line x1="189.6" y1="271.7" x2="189.6" y2="318.3" stroke="#9a9a9a" stroke-width="1.1"/>
<line x1="187" y1="271.7" x2="192.2" y2="271.7" stroke="#9a9a9a" stroke-width="1.1"/>
<line x1="187" y1="318.3" x2="192.2" y2="318.3" stroke="#9a9a9a" stroke-width="1.1"/>
<line x1="189.6" y1="273.7" x2="189.6" y2="285.5" stroke="#9a9a9a" stroke-width="1.1"/>
<line x1="187" y1="273.7" x2="192.2" y2="273.7" stroke="#9a9a9a" stroke-width="1.1"/>
<line x1="187" y1="285.5" x2="192.2" y2="285.5" stroke="#9a9a9a" stroke-width="1.1"/>
<line x1="189.6" y1="326.5" x2="189.6" y2="349.2" stroke="#9a9a9a" stroke-width="1.1"/>
<line x1="187" y1="326.5" x2="192.2" y2="326.5" stroke="#9a9a9a" stroke-width="1.1"/>
<line x1="187" y1="349.2" x2="192.2" y2="349.2" stroke="#9a9a9a" stroke-width="1.1"/>
<polyline points="84.6,348.6 119.6,349.2 137.1,346.8 154.6,343.2 172.1,339.5 189.6,337.7" stroke="#111" stroke-width="0.9" fill="none" stroke-linejoin="round"/>
<polyline points="84.6,337.7 119.6,339.5 137.1,310.5 154.6,303.7 172.1,299.5 189.6,301" stroke="#111" stroke-width="1" fill="none" stroke-linejoin="round"/>
<polyline points="84.6,348.6 119.6,347.7 137.1,294.1 154.6,283.2 172.1,280.5 189.6,279" stroke="#111" stroke-width="1" fill="none" stroke-linejoin="round"/>
<circle cx="84.6" cy="348.6" r="2.9" fill="#d8d8d8" stroke="#000" stroke-width="1.2"/>
<circle cx="119.6" cy="349.2" r="2.9" fill="#d8d8d8" stroke="#000" stroke-width="1.2"/>
<circle cx="137.1" cy="346.8" r="2.9" fill="#d8d8d8" stroke="#000" stroke-width="1.2"/>
<circle cx="154.6" cy="343.2" r="2.9" fill="#d8d8d8" stroke="#000" stroke-width="1.2"/>
<circle cx="172.1" cy="339.5" r="2.9" fill="#d8d8d8" stroke="#000" stroke-width="1.2"/>
<circle cx="189.6" cy="337.7" r="2.9" fill="#d8d8d8" stroke="#000" stroke-width="1.2"/>
<polygon points="84.6,334.24 87.8,340 81.4,340" fill="#fff" stroke="#000" stroke-width="1.2" stroke-linejoin="miter"/>
<polygon points="119.6,336.04 122.8,341.8 116.4,341.8" fill="#fff" stroke="#000" stroke-width="1.2" stroke-linejoin="miter"/>
<polygon points="137.1,307.04 140.3,312.8 133.9,312.8" fill="#fff" stroke="#000" stroke-width="1.2" stroke-linejoin="miter"/>
<polygon points="154.6,300.24 157.8,306 151.4,306" fill="#fff" stroke="#000" stroke-width="1.2" stroke-linejoin="miter"/>
<polygon points="172.1,296.04 175.3,301.8 168.9,301.8" fill="#fff" stroke="#000" stroke-width="1.2" stroke-linejoin="miter"/>
<polygon points="189.6,297.54 192.8,303.3 186.4,303.3" fill="#fff" stroke="#000" stroke-width="1.2" stroke-linejoin="miter"/>
<circle cx="84.6" cy="348.6" r="3.3" fill="#000"/>
<circle cx="119.6" cy="347.7" r="3.3" fill="#000"/>
<circle cx="137.1" cy="294.1" r="3.3" fill="#000"/>
<circle cx="154.6" cy="283.2" r="3.3" fill="#000"/>
<circle cx="172.1" cy="280.5" r="3.3" fill="#000"/>
<circle cx="189.6" cy="279" r="3.3" fill="#000"/>
<line x1="206.6" y1="284.5" x2="219.6" y2="284.5" stroke="#111" stroke-width="0.9"/>
<circle cx="213.1" cy="284.5" r="3" fill="#000"/>
<text x="226.7" y="288.4" font-size="11" text-anchor="start" fill="#000">ALD 50 cycles</text>
<line x1="206.6" y1="308.4" x2="219.6" y2="308.4" stroke="#111" stroke-width="0.9"/>
<polygon points="213.1,305.16 216.1,310.56 210.1,310.56" fill="#fff" stroke="#000" stroke-width="1.1" stroke-linejoin="miter"/>
<text x="226.7" y="312.3" font-size="11" text-anchor="start" fill="#000">Alhydrogel®</text>
<line x1="206.6" y1="332.3" x2="219.6" y2="332.3" stroke="#111" stroke-width="0.9"/>
<circle cx="213.1" cy="332.3" r="2.8" fill="#d8d8d8" stroke="#000" stroke-width="1.1"/>
<text x="226.7" y="336.2" font-size="11" text-anchor="start" fill="#000">Uncoated</text>
<text x="338.4" y="245.4" font-size="19.6" text-anchor="start" fill="#000">D</text>
<line x1="400.6" y1="250.64" x2="400.6" y2="374" stroke="#000" stroke-width="1.3"/>
<line x1="400" y1="373.4" x2="481" y2="373.4" stroke="#000" stroke-width="1.3"/>
<line x1="396.2" y1="373.4" x2="400.6" y2="373.4" stroke="#000" stroke-width="1.2"/>
<text x="392.9" y="377.1" font-size="8.7" text-anchor="end" font-weight="bold">10<tspan font-size="6.4" dy="-4.18">1</tspan></text>
<line x1="396.2" y1="353.04" x2="400.6" y2="353.04" stroke="#000" stroke-width="1.2"/>
<text x="392.9" y="356.74" font-size="8.7" text-anchor="end" font-weight="bold">10<tspan font-size="6.4" dy="-4.18">2</tspan></text>
<line x1="396.2" y1="332.68" x2="400.6" y2="332.68" stroke="#000" stroke-width="1.2"/>
<text x="392.9" y="336.38" font-size="8.7" text-anchor="end" font-weight="bold">10<tspan font-size="6.4" dy="-4.18">3</tspan></text>
<line x1="396.2" y1="312.32" x2="400.6" y2="312.32" stroke="#000" stroke-width="1.2"/>
<text x="392.9" y="316.02" font-size="8.7" text-anchor="end" font-weight="bold">10<tspan font-size="6.4" dy="-4.18">4</tspan></text>
<line x1="396.2" y1="291.96" x2="400.6" y2="291.96" stroke="#000" stroke-width="1.2"/>
<text x="392.9" y="295.66" font-size="8.7" text-anchor="end" font-weight="bold">10<tspan font-size="6.4" dy="-4.18">5</tspan></text>
<line x1="396.2" y1="271.6" x2="400.6" y2="271.6" stroke="#000" stroke-width="1.2"/>
<text x="392.9" y="275.3" font-size="8.7" text-anchor="end" font-weight="bold">10<tspan font-size="6.4" dy="-4.18">6</tspan></text>
<line x1="396.2" y1="251.24" x2="400.6" y2="251.24" stroke="#000" stroke-width="1.2"/>
<text x="392.9" y="254.94" font-size="8.7" text-anchor="end" font-weight="bold">10<tspan font-size="6.4" dy="-4.18">7</tspan></text>
<line x1="416.4" y1="373.4" x2="416.4" y2="378.8" stroke="#000" stroke-width="1.25"/>
<line x1="440.7" y1="373.4" x2="440.7" y2="378.8" stroke="#000" stroke-width="1.25"/>
<line x1="465.1" y1="373.4" x2="465.1" y2="378.8" stroke="#000" stroke-width="1.25"/>
<text x="419.1" y="389.3" font-size="11.8" text-anchor="end" fill="#000" font-weight="bold" transform="rotate(-45 419.1 389.3)">Uncoated</text>
<text x="443.4" y="389.3" font-size="11.8" text-anchor="end" fill="#000" font-weight="bold" transform="rotate(-45 443.4 389.3)">Alhydrogel®</text>
<text x="467.8" y="389.3" font-size="11.8" text-anchor="end" fill="#000" font-weight="bold" transform="rotate(-45 467.8 389.3)">ALD 50 cycle</text>
<text x="359" y="312.3" font-size="14.8" text-anchor="middle" fill="#000" transform="rotate(-90 359 312.3)">Anti-OVA</text>
<text x="372" y="311.8" font-size="9.7" text-anchor="middle" fill="#000" transform="rotate(-90 372 311.8)">(Total IgG - ng/mL)</text>
<line x1="416" y1="243.8" x2="465.6" y2="243.8" stroke="#000" stroke-width="1.4"/>
<text x="441" y="243.2" font-size="16.5" text-anchor="middle" fill="#000" font-weight="bold">**</text>
<line x1="416" y1="271.1" x2="438.6" y2="271.1" stroke="#000" stroke-width="1.4"/>
<line x1="443.1" y1="271.1" x2="465.6" y2="271.1" stroke="#000" stroke-width="1.4"/>
<text x="427.3" y="265.2" font-size="10.5" text-anchor="middle" fill="#000">ns</text>
<text x="454.3" y="265.2" font-size="10.5" text-anchor="middle" fill="#000">ns</text>
<line x1="416.4" y1="320" x2="416.4" y2="323.9" stroke="#000" stroke-width="1.3"/>
<line x1="416.4" y1="354.6" x2="416.4" y2="356.3" stroke="#000" stroke-width="1.3"/>
<line x1="412.4" y1="320" x2="420.4" y2="320" stroke="#000" stroke-width="1.3"/>
<line x1="412.4" y1="356.3" x2="420.4" y2="356.3" stroke="#000" stroke-width="1.3"/>
<rect x="408.5" y="323.9" width="15.8" height="30.7" fill="#7d7d7d" stroke="#000" stroke-width="1.3"/>
<line x1="408.5" y1="340.7" x2="424.3" y2="340.7" stroke="#000" stroke-width="1.3"/>
<line x1="440.7" y1="294.4" x2="440.7" y2="297.4" stroke="#000" stroke-width="1.3"/>
<line x1="440.7" y1="317.5" x2="440.7" y2="325.2" stroke="#000" stroke-width="1.3"/>
<line x1="436.7" y1="294.4" x2="444.7" y2="294.4" stroke="#000" stroke-width="1.3"/>
<line x1="436.7" y1="325.2" x2="444.7" y2="325.2" stroke="#000" stroke-width="1.3"/>
<rect x="432.8" y="297.4" width="15.8" height="20.1" fill="#a8a8a8" stroke="#000" stroke-width="1.3"/>
<line x1="432.8" y1="309.3" x2="448.6" y2="309.3" stroke="#000" stroke-width="1.3"/>
<line x1="465.1" y1="285" x2="465.1" y2="287.4" stroke="#000" stroke-width="1.3"/>
<line x1="465.1" y1="302.5" x2="465.1" y2="307.7" stroke="#000" stroke-width="1.3"/>
<line x1="461.1" y1="285" x2="469.1" y2="285" stroke="#000" stroke-width="1.3"/>
<line x1="461.1" y1="307.7" x2="469.1" y2="307.7" stroke="#000" stroke-width="1.3"/>
<rect x="457.2" y="287.4" width="15.8" height="15.1" fill="#7d7d7d" stroke="#000" stroke-width="1.3"/>
<line x1="457.2" y1="293.2" x2="473" y2="293.2" stroke="#000" stroke-width="1.3"/>
<circle cx="416.4" cy="320" r="2.4" fill="#fff" stroke="#000" stroke-width="1.1"/>
<circle cx="416.4" cy="329.3" r="2.4" fill="#fff" stroke="#000" stroke-width="1.1"/>
<circle cx="416.4" cy="340.4" r="2.4" fill="#fff" stroke="#000" stroke-width="1.1"/>
<circle cx="410.6" cy="356.8" r="2.4" fill="#fff" stroke="#000" stroke-width="1.1"/>
<circle cx="422.1" cy="353.8" r="2.4" fill="#fff" stroke="#000" stroke-width="1.1"/>
<polygon points="434.7,291.72 437,295.86 432.4,295.86" fill="#fff" stroke="#000" stroke-width="1" stroke-linejoin="miter"/>
<polygon points="446.6,297.32 448.9,301.46 444.3,301.46" fill="#fff" stroke="#000" stroke-width="1" stroke-linejoin="miter"/>
<polygon points="440.7,305.52 443,309.66 438.4,309.66" fill="#fff" stroke="#000" stroke-width="1" stroke-linejoin="miter"/>
<polygon points="440.7,312.92 443,317.06 438.4,317.06" fill="#fff" stroke="#000" stroke-width="1" stroke-linejoin="miter"/>
<polygon points="440.7,322.72 443,326.86 438.4,326.86" fill="#fff" stroke="#000" stroke-width="1" stroke-linejoin="miter"/>
<circle cx="461.4" cy="285" r="2.1" fill="#000"/>
<circle cx="468.6" cy="288" r="2.1" fill="#000"/>
<circle cx="465.1" cy="293" r="2.1" fill="#000"/>
<circle cx="465.1" cy="299.8" r="2.1" fill="#000"/>
<circle cx="465.1" cy="307.4" r="2.1" fill="#000"/>
<text x="5.4" y="467.2" font-size="19.6" text-anchor="start" fill="#000">E</text>
<text x="98" y="494.3" font-size="12" text-anchor="middle" fill="#000">IgM Titer</text>
<rect x="53.5" y="605.3" width="89" height="3.2" fill="#e2e2e2"/>
<line x1="53.5" y1="606.5" x2="142.5" y2="606.5" stroke="#999" stroke-width="0.9" stroke-dasharray="1,1"/>
<line x1="52.9" y1="518.1" x2="52.9" y2="609.9" stroke="#000" stroke-width="1.2"/>
<line x1="52.3" y1="609.3" x2="142.5" y2="609.3" stroke="#000" stroke-width="1.2"/>
<line x1="49.5" y1="609.3" x2="52.9" y2="609.3" stroke="#000" stroke-width="1.1"/>
<text x="47.5" y="611.8" font-size="6.6" text-anchor="end" font-weight="bold">10<tspan font-size="4.6" dy="-2.51">3</tspan></text>
<line x1="49.5" y1="586.65" x2="52.9" y2="586.65" stroke="#000" stroke-width="1.1"/>
<text x="47.5" y="589.15" font-size="6.6" text-anchor="end" font-weight="bold">10<tspan font-size="4.6" dy="-2.51">4</tspan></text>
<line x1="49.5" y1="564" x2="52.9" y2="564" stroke="#000" stroke-width="1.1"/>
<text x="47.5" y="566.5" font-size="6.6" text-anchor="end" font-weight="bold">10<tspan font-size="4.6" dy="-2.51">5</tspan></text>
<line x1="49.5" y1="541.35" x2="52.9" y2="541.35" stroke="#000" stroke-width="1.1"/>
<text x="47.5" y="543.85" font-size="6.6" text-anchor="end" font-weight="bold">10<tspan font-size="4.6" dy="-2.51">6</tspan></text>
<line x1="49.5" y1="518.7" x2="52.9" y2="518.7" stroke="#000" stroke-width="1.1"/>
<text x="47.5" y="521.2" font-size="6.6" text-anchor="end" font-weight="bold">10<tspan font-size="4.6" dy="-2.51">7</tspan></text>
<line x1="53.22" y1="609.3" x2="53.22" y2="612.7" stroke="#000" stroke-width="1.1"/>
<text x="53.22" y="621.3" font-size="6.6" text-anchor="middle" fill="#000" font-weight="bold">-2</text>
<line x1="68.1" y1="609.3" x2="68.1" y2="612.7" stroke="#000" stroke-width="1.1"/>
<text x="68.1" y="621.3" font-size="6.6" text-anchor="middle" fill="#000" font-weight="bold">0</text>
<line x1="82.98" y1="609.3" x2="82.98" y2="612.7" stroke="#000" stroke-width="1.1"/>
<text x="82.98" y="621.3" font-size="6.6" text-anchor="middle" fill="#000" font-weight="bold">2</text>
<line x1="97.86" y1="609.3" x2="97.86" y2="612.7" stroke="#000" stroke-width="1.1"/>
<text x="97.86" y="621.3" font-size="6.6" text-anchor="middle" fill="#000" font-weight="bold">4</text>
<line x1="112.74" y1="609.3" x2="112.74" y2="612.7" stroke="#000" stroke-width="1.1"/>
<text x="112.74" y="621.3" font-size="6.6" text-anchor="middle" fill="#000" font-weight="bold">6</text>
<line x1="127.62" y1="609.3" x2="127.62" y2="612.7" stroke="#000" stroke-width="1.1"/>
<text x="127.62" y="621.3" font-size="6.6" text-anchor="middle" fill="#000" font-weight="bold">8</text>
<line x1="142.5" y1="609.3" x2="142.5" y2="612.7" stroke="#000" stroke-width="1.1"/>
<text x="142.5" y="621.3" font-size="6.6" text-anchor="middle" fill="#000" font-weight="bold">10</text>
<text x="144.3" y="609" font-size="7.2" text-anchor="start" fill="#000">LOD</text>
<text x="97.9" y="634.7" font-size="11" text-anchor="middle" fill="#000">Weeks</text>
<text x="22.6" y="568.6" font-size="11" text-anchor="middle" fill="#000" transform="rotate(-90 22.6 568.6)">Anti-OVA</text>
<text x="30.6" y="568.8" font-size="7.3" text-anchor="middle" fill="#000" transform="rotate(-90 30.6 568.8)">(IgM - ng/mL)</text>
<polyline points="60.66,536.8 82.98,540 97.86,536 112.74,539.5 127.62,538.4" stroke="#111" stroke-width="1" fill="none" stroke-linejoin="round"/>
<polyline points="60.66,530.9 82.98,533.8 97.86,536 112.74,531.4 127.62,531.4" stroke="#111" stroke-width="1" fill="none" stroke-linejoin="round"/>
<polygon points="60.66,533.83 63.41,538.78 57.91,538.78" fill="#fff" stroke="#000" stroke-width="1.15" stroke-linejoin="miter"/>
<polygon points="82.98,537.03 85.73,541.98 80.23,541.98" fill="#fff" stroke="#000" stroke-width="1.15" stroke-linejoin="miter"/>
<polygon points="97.86,533.03 100.61,537.98 95.11,537.98" fill="#fff" stroke="#000" stroke-width="1.15" stroke-linejoin="miter"/>
<polygon points="112.74,536.53 115.49,541.48 109.99,541.48" fill="#fff" stroke="#000" stroke-width="1.15" stroke-linejoin="miter"/>
<polygon points="127.62,535.43 130.37,540.38 124.87,540.38" fill="#fff" stroke="#000" stroke-width="1.15" stroke-linejoin="miter"/>
<circle cx="60.66" cy="530.9" r="2.75" fill="#000"/>
<circle cx="82.98" cy="533.8" r="2.75" fill="#000"/>
<circle cx="97.86" cy="536" r="2.75" fill="#000"/>
<circle cx="112.74" cy="531.4" r="2.75" fill="#000"/>
<circle cx="127.62" cy="531.4" r="2.75" fill="#000"/>
<text x="160.4" y="467.2" font-size="19.6" text-anchor="start" fill="#000">F</text>
<text x="252.8" y="491.1" font-size="12.2" text-anchor="middle" fill="#000">IgG1 Titer</text>
<line x1="207.2" y1="607.2" x2="298.3" y2="607.2" stroke="#aaa" stroke-width="1.6" stroke-dasharray="1,0.8"/>
<line x1="206.6" y1="515.05" x2="206.6" y2="609.5" stroke="#000" stroke-width="1.2"/>
<line x1="206" y1="608.9" x2="298.3" y2="608.9" stroke="#000" stroke-width="1.2"/>
<line x1="203.2" y1="608.9" x2="206.6" y2="608.9" stroke="#000" stroke-width="1.1"/>
<text x="201.2" y="611.4" font-size="6.6" text-anchor="end" font-weight="bold">10<tspan font-size="4.6" dy="-2.51">0</tspan></text>
<line x1="203.2" y1="590.25" x2="206.6" y2="590.25" stroke="#000" stroke-width="1.1"/>
<text x="201.2" y="592.75" font-size="6.6" text-anchor="end" font-weight="bold">10<tspan font-size="4.6" dy="-2.51">1</tspan></text>
<line x1="203.2" y1="571.6" x2="206.6" y2="571.6" stroke="#000" stroke-width="1.1"/>
<text x="201.2" y="574.1" font-size="6.6" text-anchor="end" font-weight="bold">10<tspan font-size="4.6" dy="-2.51">2</tspan></text>
<line x1="203.2" y1="552.95" x2="206.6" y2="552.95" stroke="#000" stroke-width="1.1"/>
<text x="201.2" y="555.45" font-size="6.6" text-anchor="end" font-weight="bold">10<tspan font-size="4.6" dy="-2.51">3</tspan></text>
<line x1="203.2" y1="534.3" x2="206.6" y2="534.3" stroke="#000" stroke-width="1.1"/>
<text x="201.2" y="536.8" font-size="6.6" text-anchor="end" font-weight="bold">10<tspan font-size="4.6" dy="-2.51">4</tspan></text>
<line x1="203.2" y1="515.65" x2="206.6" y2="515.65" stroke="#000" stroke-width="1.1"/>
<text x="201.2" y="518.15" font-size="6.6" text-anchor="end" font-weight="bold">10<tspan font-size="4.6" dy="-2.51">5</tspan></text>
<line x1="207.1" y1="608.9" x2="207.1" y2="612.3" stroke="#000" stroke-width="1.1"/>
<text x="207.1" y="620.9" font-size="6.6" text-anchor="middle" fill="#000" font-weight="bold">-2</text>
<line x1="222.3" y1="608.9" x2="222.3" y2="612.3" stroke="#000" stroke-width="1.1"/>
<text x="222.3" y="620.9" font-size="6.6" text-anchor="middle" fill="#000" font-weight="bold">0</text>
<line x1="237.5" y1="608.9" x2="237.5" y2="612.3" stroke="#000" stroke-width="1.1"/>
<text x="237.5" y="620.9" font-size="6.6" text-anchor="middle" fill="#000" font-weight="bold">2</text>
<line x1="252.7" y1="608.9" x2="252.7" y2="612.3" stroke="#000" stroke-width="1.1"/>
<text x="252.7" y="620.9" font-size="6.6" text-anchor="middle" fill="#000" font-weight="bold">4</text>
<line x1="267.9" y1="608.9" x2="267.9" y2="612.3" stroke="#000" stroke-width="1.1"/>
<text x="267.9" y="620.9" font-size="6.6" text-anchor="middle" fill="#000" font-weight="bold">6</text>
<line x1="283.1" y1="608.9" x2="283.1" y2="612.3" stroke="#000" stroke-width="1.1"/>
<text x="283.1" y="620.9" font-size="6.6" text-anchor="middle" fill="#000" font-weight="bold">8</text>
<line x1="298.3" y1="608.9" x2="298.3" y2="612.3" stroke="#000" stroke-width="1.1"/>
<text x="298.3" y="620.9" font-size="6.6" text-anchor="middle" fill="#000" font-weight="bold">10</text>
<text x="300.7" y="609.3" font-size="7.2" text-anchor="start" fill="#000">LOD</text>
<text x="253.3" y="635" font-size="11" text-anchor="middle" fill="#000">Weeks</text>
<text x="174.6" y="568" font-size="11" text-anchor="middle" fill="#000" transform="rotate(-90 174.6 568)">Anti-OVA</text>
<text x="184.6" y="568" font-size="7.2" text-anchor="middle" fill="#000" transform="rotate(-90 184.6 568)">(IgG1 - ng/mL)</text>
<polyline points="214.7,607.9 237.5,559.8 252.7,555.8 267.9,559.8 283.1,564.9" stroke="#111" stroke-width="1" fill="none" stroke-linejoin="round"/>
<polyline points="214.7,607.9 237.5,541.5 252.7,531.8 267.9,535.2 283.1,540.3" stroke="#111" stroke-width="1" fill="none" stroke-linejoin="round"/>
<polygon points="214.7,604.93 217.45,609.88 211.95,609.88" fill="#fff" stroke="#000" stroke-width="1.15" stroke-linejoin="miter"/>
<polygon points="237.5,556.83 240.25,561.78 234.75,561.78" fill="#fff" stroke="#000" stroke-width="1.15" stroke-linejoin="miter"/>
<polygon points="252.7,552.83 255.45,557.78 249.95,557.78" fill="#fff" stroke="#000" stroke-width="1.15" stroke-linejoin="miter"/>
<polygon points="267.9,556.83 270.65,561.78 265.15,561.78" fill="#fff" stroke="#000" stroke-width="1.15" stroke-linejoin="miter"/>
<polygon points="283.1,561.93 285.85,566.88 280.35,566.88" fill="#fff" stroke="#000" stroke-width="1.15" stroke-linejoin="miter"/>
<circle cx="214.7" cy="607.9" r="2.75" fill="#000"/>
<circle cx="237.5" cy="541.5" r="2.75" fill="#000"/>
<circle cx="252.7" cy="531.8" r="2.75" fill="#000"/>
<circle cx="267.9" cy="535.2" r="2.75" fill="#000"/>
<circle cx="283.1" cy="540.3" r="2.75" fill="#000"/>
<text x="303.8" y="467.4" font-size="19.6" text-anchor="start" fill="#000">G</text>
<text x="401.7" y="490.6" font-size="12.1" text-anchor="middle" fill="#000">IgG2C Titer</text>
<line x1="356.9" y1="586" x2="448.6" y2="586" stroke="#aaa" stroke-width="1.5" stroke-dasharray="1,0.8"/>
<line x1="356.3" y1="514.1" x2="356.3" y2="608.6" stroke="#000" stroke-width="1.2"/>
<line x1="355.7" y1="608" x2="448.6" y2="608" stroke="#000" stroke-width="1.2"/>
<line x1="352.9" y1="608" x2="356.3" y2="608" stroke="#000" stroke-width="1.1"/>
<text x="350.9" y="610.5" font-size="6.6" text-anchor="end" font-weight="bold">10<tspan font-size="4.6" dy="-2.51">0</tspan></text>
<line x1="352.9" y1="576.9" x2="356.3" y2="576.9" stroke="#000" stroke-width="1.1"/>
<text x="350.9" y="579.4" font-size="6.6" text-anchor="end" font-weight="bold">10<tspan font-size="4.6" dy="-2.51">1</tspan></text>
<line x1="352.9" y1="545.8" x2="356.3" y2="545.8" stroke="#000" stroke-width="1.1"/>
<text x="350.9" y="548.3" font-size="6.6" text-anchor="end" font-weight="bold">10<tspan font-size="4.6" dy="-2.51">2</tspan></text>
<line x1="352.9" y1="514.7" x2="356.3" y2="514.7" stroke="#000" stroke-width="1.1"/>
<text x="350.9" y="517.2" font-size="6.6" text-anchor="end" font-weight="bold">10<tspan font-size="4.6" dy="-2.51">3</tspan></text>
<line x1="356.2" y1="608" x2="356.2" y2="611.4" stroke="#000" stroke-width="1.1"/>
<text x="356.2" y="620" font-size="6.6" text-anchor="middle" fill="#000" font-weight="bold">-2</text>
<line x1="371.6" y1="608" x2="371.6" y2="611.4" stroke="#000" stroke-width="1.1"/>
<text x="371.6" y="620" font-size="6.6" text-anchor="middle" fill="#000" font-weight="bold">0</text>
<line x1="387" y1="608" x2="387" y2="611.4" stroke="#000" stroke-width="1.1"/>
<text x="387" y="620" font-size="6.6" text-anchor="middle" fill="#000" font-weight="bold">2</text>
<line x1="402.4" y1="608" x2="402.4" y2="611.4" stroke="#000" stroke-width="1.1"/>
<text x="402.4" y="620" font-size="6.6" text-anchor="middle" fill="#000" font-weight="bold">4</text>
<line x1="417.8" y1="608" x2="417.8" y2="611.4" stroke="#000" stroke-width="1.1"/>
<text x="417.8" y="620" font-size="6.6" text-anchor="middle" fill="#000" font-weight="bold">6</text>
<line x1="433.2" y1="608" x2="433.2" y2="611.4" stroke="#000" stroke-width="1.1"/>
<text x="433.2" y="620" font-size="6.6" text-anchor="middle" fill="#000" font-weight="bold">8</text>
<line x1="448.6" y1="608" x2="448.6" y2="611.4" stroke="#000" stroke-width="1.1"/>
<text x="448.6" y="620" font-size="6.6" text-anchor="middle" fill="#000" font-weight="bold">10</text>
<text x="450" y="588.7" font-size="7.2" text-anchor="start" fill="#000">LOD</text>
<text x="401.9" y="633.8" font-size="11" text-anchor="middle" fill="#000">Weeks</text>
<text x="325.1" y="566.5" font-size="11" text-anchor="middle" fill="#000" transform="rotate(-90 325.1 566.5)">Anti-OVA</text>
<text x="333.1" y="565.8" font-size="7.45" text-anchor="middle" fill="#000" transform="rotate(-90 333.1 565.8)">(IgG2C - ng/mL)</text>
<polyline points="363.9,587 387,583.2 402.4,586.8 417.8,586.8 433.2,577.5" stroke="#111" stroke-width="1" fill="none" stroke-linejoin="round"/>
<polyline points="363.9,585.6 387,584.6 402.4,526 417.8,527.9 433.2,546.6" stroke="#111" stroke-width="1" fill="none" stroke-linejoin="round"/>
<polygon points="363.9,584.08 366.6,588.94 361.2,588.94" fill="#fff" stroke="#000" stroke-width="1.1" stroke-linejoin="miter"/>
<polygon points="387,580.28 389.7,585.14 384.3,585.14" fill="#fff" stroke="#000" stroke-width="1.1" stroke-linejoin="miter"/>
<polygon points="402.4,583.88 405.1,588.74 399.7,588.74" fill="#fff" stroke="#000" stroke-width="1.1" stroke-linejoin="miter"/>
<polygon points="417.8,583.88 420.5,588.74 415.1,588.74" fill="#fff" stroke="#000" stroke-width="1.1" stroke-linejoin="miter"/>
<polygon points="433.2,574.58 435.9,579.44 430.5,579.44" fill="#fff" stroke="#000" stroke-width="1.1" stroke-linejoin="miter"/>
<circle cx="363.9" cy="585.6" r="2.8" fill="#000"/>
<circle cx="387" cy="584.6" r="2.8" fill="#000"/>
<circle cx="402.4" cy="526" r="2.8" fill="#000"/>
<circle cx="417.8" cy="527.9" r="2.8" fill="#000"/>
<circle cx="433.2" cy="546.6" r="2.8" fill="#000"/>
<line x1="448" y1="518.4" x2="459" y2="518.4" stroke="#111" stroke-width="0.9"/>
<circle cx="453.2" cy="518.4" r="2.7" fill="#000"/>
<text x="464" y="522.3" font-size="11" text-anchor="start" fill="#000">ALD 50 cycles</text>
<line x1="448" y1="536" x2="459" y2="536" stroke="#111" stroke-width="0.9"/>
<polygon points="453.2,533.3 455.7,537.8 450.7,537.8" fill="#fff" stroke="#000" stroke-width="1" stroke-linejoin="miter"/>
<text x="464" y="539.9" font-size="11" text-anchor="start" fill="#000">Alhydrogel®</text>
</svg>
</body></html>
